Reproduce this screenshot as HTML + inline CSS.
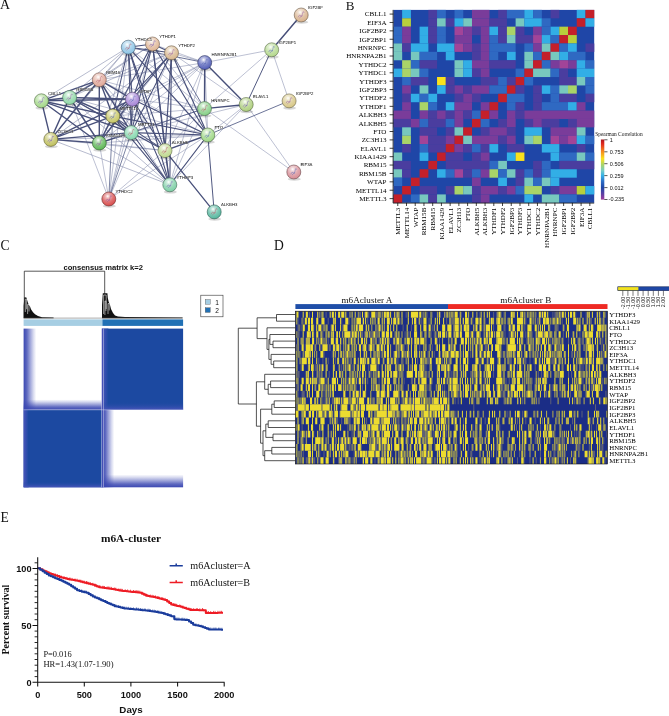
<!DOCTYPE html>
<html lang="en"><head><meta charset="utf-8"><title>m6A regulators figure</title>
<style>html,body{margin:0;padding:0;background:#fff}body{width:669px;height:716px;overflow:hidden}svg{display:block}</style></head><body>
<svg width="669" height="716" viewBox="0 0 669 716">
<rect width="669" height="716" fill="#fff"/>
<g font-family="'Liberation Serif',serif" fill="#111"><text x="0" y="9.4" font-size="13.9">A</text><text x="345.8" y="9.5" font-size="13">B</text><text x="0.4" y="249.6" font-size="13.6">C</text><text x="274" y="249.5" font-size="13.6">D</text><text x="0.5" y="522" font-size="13.6">E</text></g>
<clipPath id="clipA"><rect x="0" y="0" width="322.6" height="240"/></clipPath><g id="panelA" clip-path="url(#clipA)"><defs>
<radialGradient id="ng0" cx="0.42" cy="0.3" r="0.78"><stop offset="0" stop-color="#fff"/><stop offset="0.18" stop-color="#f0e1d2"/><stop offset="0.5" stop-color="#e1c4a8"/><stop offset="0.85" stop-color="#d9b48f"/><stop offset="1" stop-color="#877059"/></radialGradient>
<radialGradient id="ng1" cx="0.42" cy="0.3" r="0.78"><stop offset="0" stop-color="#fff"/><stop offset="0.18" stop-color="#e1f0d2"/><stop offset="0.5" stop-color="#c5e1a8"/><stop offset="0.85" stop-color="#b5d98f"/><stop offset="1" stop-color="#708759"/></radialGradient>
<radialGradient id="ng2" cx="0.42" cy="0.3" r="0.78"><stop offset="0" stop-color="#fff"/><stop offset="0.18" stop-color="#d2e8f5"/><stop offset="0.5" stop-color="#a7d2ec"/><stop offset="0.85" stop-color="#8ec5e6"/><stop offset="1" stop-color="#587a8f"/></radialGradient>
<radialGradient id="ng3" cx="0.42" cy="0.3" r="0.78"><stop offset="0" stop-color="#fff"/><stop offset="0.18" stop-color="#f3e3d6"/><stop offset="0.5" stop-color="#e7c8af"/><stop offset="0.85" stop-color="#e0b898"/><stop offset="1" stop-color="#8b725e"/></radialGradient>
<radialGradient id="ng4" cx="0.42" cy="0.3" r="0.78"><stop offset="0" stop-color="#fff"/><stop offset="0.18" stop-color="#efe3d3"/><stop offset="0.5" stop-color="#e1c8a8"/><stop offset="0.85" stop-color="#d8b890"/><stop offset="1" stop-color="#867259"/></radialGradient>
<radialGradient id="ng5" cx="0.42" cy="0.3" r="0.78"><stop offset="0" stop-color="#fff"/><stop offset="0.18" stop-color="#bbbfe3"/><stop offset="0.5" stop-color="#7a83c8"/><stop offset="0.85" stop-color="#5560b8"/><stop offset="1" stop-color="#353c72"/></radialGradient>
<radialGradient id="ng6" cx="0.42" cy="0.3" r="0.78"><stop offset="0" stop-color="#fff"/><stop offset="0.18" stop-color="#f3dcd6"/><stop offset="0.5" stop-color="#e7bbaf"/><stop offset="0.85" stop-color="#e0a898"/><stop offset="1" stop-color="#8b685e"/></radialGradient>
<radialGradient id="ng7" cx="0.42" cy="0.3" r="0.78"><stop offset="0" stop-color="#fff"/><stop offset="0.18" stop-color="#dbefd0"/><stop offset="0.5" stop-color="#b9e1a4"/><stop offset="0.85" stop-color="#a5d88a"/><stop offset="1" stop-color="#668656"/></radialGradient>
<radialGradient id="ng8" cx="0.42" cy="0.3" r="0.78"><stop offset="0" stop-color="#fff"/><stop offset="0.18" stop-color="#d3efdc"/><stop offset="0.5" stop-color="#a8e1bb"/><stop offset="0.85" stop-color="#90d8a8"/><stop offset="1" stop-color="#598668"/></radialGradient>
<radialGradient id="ng9" cx="0.42" cy="0.3" r="0.78"><stop offset="0" stop-color="#fff"/><stop offset="0.18" stop-color="#dccfef"/><stop offset="0.5" stop-color="#bba2e1"/><stop offset="0.85" stop-color="#a888d8"/><stop offset="1" stop-color="#685486"/></radialGradient>
<radialGradient id="ng10" cx="0.42" cy="0.3" r="0.78"><stop offset="0" stop-color="#fff"/><stop offset="0.18" stop-color="#cfeccf"/><stop offset="0.5" stop-color="#a2daa2"/><stop offset="0.85" stop-color="#88d088"/><stop offset="1" stop-color="#548154"/></radialGradient>
<radialGradient id="ng11" cx="0.42" cy="0.3" r="0.78"><stop offset="0" stop-color="#fff"/><stop offset="0.18" stop-color="#dfeccc"/><stop offset="0.5" stop-color="#c1da9c"/><stop offset="0.85" stop-color="#b0d080"/><stop offset="1" stop-color="#6d814f"/></radialGradient>
<radialGradient id="ng12" cx="0.42" cy="0.3" r="0.78"><stop offset="0" stop-color="#fff"/><stop offset="0.18" stop-color="#efe9cf"/><stop offset="0.5" stop-color="#e1d4a2"/><stop offset="0.85" stop-color="#d8c888"/><stop offset="1" stop-color="#867c54"/></radialGradient>
<radialGradient id="ng13" cx="0.42" cy="0.3" r="0.78"><stop offset="0" stop-color="#fff"/><stop offset="0.18" stop-color="#e9e9c3"/><stop offset="0.5" stop-color="#d4d489"/><stop offset="0.85" stop-color="#c8c868"/><stop offset="1" stop-color="#7c7c40"/></radialGradient>
<radialGradient id="ng14" cx="0.42" cy="0.3" r="0.78"><stop offset="0" stop-color="#fff"/><stop offset="0.18" stop-color="#cfefdf"/><stop offset="0.5" stop-color="#a2e1c1"/><stop offset="0.85" stop-color="#88d8b0"/><stop offset="1" stop-color="#54866d"/></radialGradient>
<radialGradient id="ng15" cx="0.42" cy="0.3" r="0.78"><stop offset="0" stop-color="#fff"/><stop offset="0.18" stop-color="#e6e6bf"/><stop offset="0.5" stop-color="#cece83"/><stop offset="0.85" stop-color="#c0c060"/><stop offset="1" stop-color="#77773c"/></radialGradient>
<radialGradient id="ng16" cx="0.42" cy="0.3" r="0.78"><stop offset="0" stop-color="#fff"/><stop offset="0.18" stop-color="#bfe3bc"/><stop offset="0.5" stop-color="#83c87d"/><stop offset="0.85" stop-color="#60b858"/><stop offset="1" stop-color="#3c7237"/></radialGradient>
<radialGradient id="ng17" cx="0.42" cy="0.3" r="0.78"><stop offset="0" stop-color="#fff"/><stop offset="0.18" stop-color="#d9efcf"/><stop offset="0.5" stop-color="#b5e1a2"/><stop offset="0.85" stop-color="#a0d888"/><stop offset="1" stop-color="#638654"/></radialGradient>
<radialGradient id="ng18" cx="0.42" cy="0.3" r="0.78"><stop offset="0" stop-color="#fff"/><stop offset="0.18" stop-color="#e6efd3"/><stop offset="0.5" stop-color="#cee1a8"/><stop offset="0.85" stop-color="#c0d890"/><stop offset="1" stop-color="#778659"/></radialGradient>
<radialGradient id="ng19" cx="0.42" cy="0.3" r="0.78"><stop offset="0" stop-color="#fff"/><stop offset="0.18" stop-color="#ccecdc"/><stop offset="0.5" stop-color="#9cdabb"/><stop offset="0.85" stop-color="#80d0a8"/><stop offset="1" stop-color="#4f8168"/></radialGradient>
<radialGradient id="ng20" cx="0.42" cy="0.3" r="0.78"><stop offset="0" stop-color="#fff"/><stop offset="0.18" stop-color="#efb9b9"/><stop offset="0.5" stop-color="#e17676"/><stop offset="0.85" stop-color="#d85050"/><stop offset="1" stop-color="#863232"/></radialGradient>
<radialGradient id="ng21" cx="0.42" cy="0.3" r="0.78"><stop offset="0" stop-color="#fff"/><stop offset="0.18" stop-color="#efd3d6"/><stop offset="0.5" stop-color="#e1a8af"/><stop offset="0.85" stop-color="#d89098"/><stop offset="1" stop-color="#86595e"/></radialGradient>
<radialGradient id="ng22" cx="0.42" cy="0.3" r="0.78"><stop offset="0" stop-color="#fff"/><stop offset="0.18" stop-color="#bce3d9"/><stop offset="0.5" stop-color="#7dc8b5"/><stop offset="0.85" stop-color="#58b8a0"/><stop offset="1" stop-color="#377263"/></radialGradient>
</defs>
<g stroke-linecap="round">
<line x1="207.8" y1="135.0" x2="99.3" y2="143.0" stroke="#7a82a6" stroke-width="0.50"/>
<line x1="207.8" y1="135.0" x2="99.3" y2="79.8" stroke="#7a82a6" stroke-width="0.50"/>
<line x1="207.8" y1="135.0" x2="69.6" y2="97.5" stroke="#7a82a6" stroke-width="0.50"/>
<line x1="207.8" y1="135.0" x2="50.8" y2="139.4" stroke="#7a82a6" stroke-width="0.50"/>
<line x1="165.0" y1="150.6" x2="99.3" y2="143.0" stroke="#7a82a6" stroke-width="0.50"/>
<line x1="165.0" y1="150.6" x2="99.3" y2="79.8" stroke="#7a82a6" stroke-width="0.50"/>
<line x1="165.0" y1="150.6" x2="69.6" y2="97.5" stroke="#7a82a6" stroke-width="0.50"/>
<line x1="165.0" y1="150.6" x2="50.8" y2="139.4" stroke="#7a82a6" stroke-width="0.50"/>
<line x1="204.7" y1="62.6" x2="131.3" y2="132.6" stroke="#7a82a6" stroke-width="0.50"/>
<line x1="204.7" y1="62.6" x2="112.8" y2="116.1" stroke="#7a82a6" stroke-width="0.50"/>
<line x1="204.7" y1="62.6" x2="132.4" y2="99.2" stroke="#7a82a6" stroke-width="0.50"/>
<line x1="204.7" y1="62.6" x2="152.5" y2="44.0" stroke="#7a82a6" stroke-width="0.50"/>
<line x1="204.7" y1="62.6" x2="171.5" y2="52.8" stroke="#7a82a6" stroke-width="0.50"/>
<line x1="204.7" y1="62.6" x2="169.8" y2="184.8" stroke="#7a82a6" stroke-width="0.50"/>
<line x1="207.8" y1="135.0" x2="204.7" y2="62.6" stroke="#7a82a6" stroke-width="0.50"/>
<line x1="165.0" y1="150.6" x2="204.7" y2="62.6" stroke="#7a82a6" stroke-width="0.50"/>
<line x1="204.7" y1="62.6" x2="99.3" y2="79.8" stroke="#7a82a6" stroke-width="0.50"/>
<line x1="204.7" y1="62.6" x2="99.3" y2="143.0" stroke="#7a82a6" stroke-width="0.50"/>
<line x1="204.5" y1="108.6" x2="112.8" y2="116.1" stroke="#7a82a6" stroke-width="0.50"/>
<line x1="204.5" y1="108.6" x2="132.4" y2="99.2" stroke="#7a82a6" stroke-width="0.50"/>
<line x1="204.5" y1="108.6" x2="152.5" y2="44.0" stroke="#7a82a6" stroke-width="0.50"/>
<line x1="204.5" y1="108.6" x2="169.8" y2="184.8" stroke="#7a82a6" stroke-width="0.50"/>
<line x1="204.5" y1="108.6" x2="128.3" y2="47.2" stroke="#7a82a6" stroke-width="0.50"/>
<line x1="207.8" y1="135.0" x2="204.5" y2="108.6" stroke="#7a82a6" stroke-width="0.50"/>
<line x1="165.0" y1="150.6" x2="204.5" y2="108.6" stroke="#7a82a6" stroke-width="0.50"/>
<line x1="204.5" y1="108.6" x2="99.3" y2="79.8" stroke="#7a82a6" stroke-width="0.50"/>
<line x1="204.5" y1="108.6" x2="99.3" y2="143.0" stroke="#7a82a6" stroke-width="0.50"/>
<line x1="99.3" y1="143.0" x2="108.8" y2="199.0" stroke="#7a82a6" stroke-width="0.50"/>
<line x1="132.4" y1="99.2" x2="108.8" y2="199.0" stroke="#7a82a6" stroke-width="0.50"/>
<line x1="165.0" y1="150.6" x2="108.8" y2="199.0" stroke="#7a82a6" stroke-width="0.50"/>
<line x1="69.6" y1="97.5" x2="108.8" y2="199.0" stroke="#7a82a6" stroke-width="0.50"/>
<line x1="128.3" y1="47.2" x2="108.8" y2="199.0" stroke="#7a82a6" stroke-width="0.50"/>
<line x1="108.8" y1="199.0" x2="152.5" y2="44.0" stroke="#7a82a6" stroke-width="0.50"/>
<line x1="108.8" y1="199.0" x2="171.5" y2="52.8" stroke="#7a82a6" stroke-width="0.50"/>
<line x1="207.8" y1="135.0" x2="108.8" y2="199.0" stroke="#7a82a6" stroke-width="0.50"/>
<line x1="204.7" y1="62.6" x2="271.7" y2="49.8" stroke="#7a82a6" stroke-width="0.50"/>
<line x1="271.7" y1="49.8" x2="289.1" y2="100.9" stroke="#7a82a6" stroke-width="0.50"/>
<line x1="204.5" y1="108.6" x2="271.7" y2="49.8" stroke="#7a82a6" stroke-width="0.50"/>
<line x1="246.2" y1="104.5" x2="207.8" y2="135.0" stroke="#7a82a6" stroke-width="0.50"/>
<line x1="293.8" y1="172.0" x2="246.2" y2="104.5" stroke="#7a82a6" stroke-width="0.50"/>
<line x1="293.8" y1="172.0" x2="204.5" y2="108.6" stroke="#7a82a6" stroke-width="0.50"/>
<line x1="246.2" y1="104.5" x2="169.8" y2="184.8" stroke="#7a82a6" stroke-width="0.50"/>
<line x1="246.2" y1="104.5" x2="131.3" y2="132.6" stroke="#7a82a6" stroke-width="0.50"/>
<line x1="246.2" y1="104.5" x2="171.5" y2="52.8" stroke="#7a82a6" stroke-width="0.50"/>
<line x1="99.3" y1="143.0" x2="152.5" y2="44.0" stroke="#7a82a6" stroke-width="0.55"/>
<line x1="99.3" y1="143.0" x2="171.5" y2="52.8" stroke="#7a82a6" stroke-width="0.55"/>
<line x1="99.3" y1="143.0" x2="169.8" y2="184.8" stroke="#7a82a6" stroke-width="0.55"/>
<line x1="99.3" y1="143.0" x2="128.3" y2="47.2" stroke="#7a82a6" stroke-width="0.55"/>
<line x1="99.3" y1="79.8" x2="152.5" y2="44.0" stroke="#7a82a6" stroke-width="0.55"/>
<line x1="99.3" y1="79.8" x2="171.5" y2="52.8" stroke="#7a82a6" stroke-width="0.55"/>
<line x1="99.3" y1="79.8" x2="169.8" y2="184.8" stroke="#7a82a6" stroke-width="0.55"/>
<line x1="99.3" y1="79.8" x2="128.3" y2="47.2" stroke="#7a82a6" stroke-width="0.55"/>
<line x1="69.6" y1="97.5" x2="152.5" y2="44.0" stroke="#7a82a6" stroke-width="0.55"/>
<line x1="69.6" y1="97.5" x2="171.5" y2="52.8" stroke="#7a82a6" stroke-width="0.55"/>
<line x1="69.6" y1="97.5" x2="169.8" y2="184.8" stroke="#7a82a6" stroke-width="0.55"/>
<line x1="69.6" y1="97.5" x2="128.3" y2="47.2" stroke="#7a82a6" stroke-width="0.55"/>
<line x1="171.5" y1="52.8" x2="50.8" y2="139.4" stroke="#7a82a6" stroke-width="0.55"/>
<line x1="169.8" y1="184.8" x2="50.8" y2="139.4" stroke="#7a82a6" stroke-width="0.55"/>
<line x1="128.3" y1="47.2" x2="50.8" y2="139.4" stroke="#7a82a6" stroke-width="0.55"/>
<line x1="41.4" y1="100.8" x2="128.3" y2="47.2" stroke="#7a82a6" stroke-width="0.55"/>
<line x1="112.8" y1="116.1" x2="108.8" y2="199.0" stroke="#5b648c" stroke-width="0.80"/>
<line x1="131.3" y1="132.6" x2="108.8" y2="199.0" stroke="#5b648c" stroke-width="0.80"/>
<line x1="204.7" y1="62.6" x2="128.3" y2="47.2" stroke="#5b648c" stroke-width="0.90"/>
<line x1="204.5" y1="108.6" x2="131.3" y2="132.6" stroke="#5b648c" stroke-width="0.90"/>
<line x1="204.5" y1="108.6" x2="171.5" y2="52.8" stroke="#5b648c" stroke-width="0.90"/>
<line x1="207.8" y1="135.0" x2="289.1" y2="100.9" stroke="#5b648c" stroke-width="0.90"/>
<line x1="246.2" y1="104.5" x2="271.7" y2="49.8" stroke="#48507a" stroke-width="0.95"/>
<line x1="214.2" y1="211.9" x2="207.8" y2="135.0" stroke="#48507a" stroke-width="0.95"/>
<line x1="131.3" y1="132.6" x2="152.5" y2="44.0" stroke="#48507a" stroke-width="1.04"/>
<line x1="131.3" y1="132.6" x2="171.5" y2="52.8" stroke="#48507a" stroke-width="1.04"/>
<line x1="131.3" y1="132.6" x2="169.8" y2="184.8" stroke="#48507a" stroke-width="1.04"/>
<line x1="131.3" y1="132.6" x2="128.3" y2="47.2" stroke="#48507a" stroke-width="1.04"/>
<line x1="112.8" y1="116.1" x2="152.5" y2="44.0" stroke="#48507a" stroke-width="1.04"/>
<line x1="112.8" y1="116.1" x2="171.5" y2="52.8" stroke="#48507a" stroke-width="1.04"/>
<line x1="112.8" y1="116.1" x2="169.8" y2="184.8" stroke="#48507a" stroke-width="1.04"/>
<line x1="112.8" y1="116.1" x2="128.3" y2="47.2" stroke="#48507a" stroke-width="1.04"/>
<line x1="132.4" y1="99.2" x2="152.5" y2="44.0" stroke="#48507a" stroke-width="1.04"/>
<line x1="132.4" y1="99.2" x2="171.5" y2="52.8" stroke="#48507a" stroke-width="1.04"/>
<line x1="132.4" y1="99.2" x2="169.8" y2="184.8" stroke="#48507a" stroke-width="1.04"/>
<line x1="132.4" y1="99.2" x2="128.3" y2="47.2" stroke="#48507a" stroke-width="1.04"/>
<line x1="152.5" y1="44.0" x2="171.5" y2="52.8" stroke="#48507a" stroke-width="1.13"/>
<line x1="152.5" y1="44.0" x2="169.8" y2="184.8" stroke="#48507a" stroke-width="1.13"/>
<line x1="128.3" y1="47.2" x2="152.5" y2="44.0" stroke="#48507a" stroke-width="1.13"/>
<line x1="171.5" y1="52.8" x2="169.8" y2="184.8" stroke="#48507a" stroke-width="1.13"/>
<line x1="128.3" y1="47.2" x2="171.5" y2="52.8" stroke="#48507a" stroke-width="1.13"/>
<line x1="128.3" y1="47.2" x2="169.8" y2="184.8" stroke="#48507a" stroke-width="1.13"/>
<line x1="207.8" y1="135.0" x2="131.3" y2="132.6" stroke="#48507a" stroke-width="1.13"/>
<line x1="207.8" y1="135.0" x2="112.8" y2="116.1" stroke="#48507a" stroke-width="1.13"/>
<line x1="207.8" y1="135.0" x2="132.4" y2="99.2" stroke="#48507a" stroke-width="1.13"/>
<line x1="207.8" y1="135.0" x2="152.5" y2="44.0" stroke="#48507a" stroke-width="1.13"/>
<line x1="207.8" y1="135.0" x2="171.5" y2="52.8" stroke="#48507a" stroke-width="1.13"/>
<line x1="207.8" y1="135.0" x2="169.8" y2="184.8" stroke="#48507a" stroke-width="1.13"/>
<line x1="207.8" y1="135.0" x2="128.3" y2="47.2" stroke="#48507a" stroke-width="1.13"/>
<line x1="165.0" y1="150.6" x2="131.3" y2="132.6" stroke="#48507a" stroke-width="1.13"/>
<line x1="165.0" y1="150.6" x2="112.8" y2="116.1" stroke="#48507a" stroke-width="1.13"/>
<line x1="165.0" y1="150.6" x2="132.4" y2="99.2" stroke="#48507a" stroke-width="1.13"/>
<line x1="165.0" y1="150.6" x2="152.5" y2="44.0" stroke="#48507a" stroke-width="1.13"/>
<line x1="165.0" y1="150.6" x2="171.5" y2="52.8" stroke="#48507a" stroke-width="1.13"/>
<line x1="165.0" y1="150.6" x2="169.8" y2="184.8" stroke="#48507a" stroke-width="1.13"/>
<line x1="165.0" y1="150.6" x2="128.3" y2="47.2" stroke="#48507a" stroke-width="1.13"/>
<line x1="214.2" y1="211.9" x2="165.0" y2="150.6" stroke="#48507a" stroke-width="1.31"/>
<line x1="112.8" y1="116.1" x2="131.3" y2="132.6" stroke="#48507a" stroke-width="1.40"/>
<line x1="131.3" y1="132.6" x2="132.4" y2="99.2" stroke="#48507a" stroke-width="1.40"/>
<line x1="99.3" y1="143.0" x2="131.3" y2="132.6" stroke="#48507a" stroke-width="1.40"/>
<line x1="131.3" y1="132.6" x2="99.3" y2="79.8" stroke="#48507a" stroke-width="1.40"/>
<line x1="131.3" y1="132.6" x2="69.6" y2="97.5" stroke="#48507a" stroke-width="1.40"/>
<line x1="131.3" y1="132.6" x2="50.8" y2="139.4" stroke="#48507a" stroke-width="1.40"/>
<line x1="41.4" y1="100.8" x2="131.3" y2="132.6" stroke="#48507a" stroke-width="1.40"/>
<line x1="112.8" y1="116.1" x2="132.4" y2="99.2" stroke="#48507a" stroke-width="1.40"/>
<line x1="99.3" y1="143.0" x2="112.8" y2="116.1" stroke="#48507a" stroke-width="1.40"/>
<line x1="112.8" y1="116.1" x2="99.3" y2="79.8" stroke="#48507a" stroke-width="1.40"/>
<line x1="112.8" y1="116.1" x2="69.6" y2="97.5" stroke="#48507a" stroke-width="1.40"/>
<line x1="112.8" y1="116.1" x2="50.8" y2="139.4" stroke="#48507a" stroke-width="1.40"/>
<line x1="41.4" y1="100.8" x2="112.8" y2="116.1" stroke="#48507a" stroke-width="1.40"/>
<line x1="99.3" y1="143.0" x2="132.4" y2="99.2" stroke="#48507a" stroke-width="1.40"/>
<line x1="99.3" y1="79.8" x2="132.4" y2="99.2" stroke="#48507a" stroke-width="1.40"/>
<line x1="69.6" y1="97.5" x2="132.4" y2="99.2" stroke="#48507a" stroke-width="1.40"/>
<line x1="132.4" y1="99.2" x2="50.8" y2="139.4" stroke="#48507a" stroke-width="1.40"/>
<line x1="41.4" y1="100.8" x2="132.4" y2="99.2" stroke="#48507a" stroke-width="1.40"/>
<line x1="99.3" y1="143.0" x2="99.3" y2="79.8" stroke="#48507a" stroke-width="1.40"/>
<line x1="99.3" y1="143.0" x2="69.6" y2="97.5" stroke="#48507a" stroke-width="1.40"/>
<line x1="99.3" y1="143.0" x2="50.8" y2="139.4" stroke="#48507a" stroke-width="1.40"/>
<line x1="41.4" y1="100.8" x2="99.3" y2="143.0" stroke="#48507a" stroke-width="1.40"/>
<line x1="99.3" y1="79.8" x2="69.6" y2="97.5" stroke="#48507a" stroke-width="1.40"/>
<line x1="99.3" y1="79.8" x2="50.8" y2="139.4" stroke="#48507a" stroke-width="1.40"/>
<line x1="41.4" y1="100.8" x2="99.3" y2="79.8" stroke="#48507a" stroke-width="1.40"/>
<line x1="69.6" y1="97.5" x2="50.8" y2="139.4" stroke="#48507a" stroke-width="1.40"/>
<line x1="41.4" y1="100.8" x2="69.6" y2="97.5" stroke="#48507a" stroke-width="1.40"/>
<line x1="41.4" y1="100.8" x2="50.8" y2="139.4" stroke="#48507a" stroke-width="1.40"/>
<line x1="165.0" y1="150.6" x2="207.8" y2="135.0" stroke="#48507a" stroke-width="1.40"/>
<line x1="204.7" y1="62.6" x2="204.5" y2="108.6" stroke="#48507a" stroke-width="1.40"/>
<line x1="246.2" y1="104.5" x2="204.7" y2="62.6" stroke="#48507a" stroke-width="1.40"/>
<line x1="246.2" y1="104.5" x2="204.5" y2="108.6" stroke="#48507a" stroke-width="1.40"/>
<line x1="271.7" y1="49.8" x2="301.2" y2="15.0" stroke="#48507a" stroke-width="1.49"/>
</g>
<ellipse cx="301.7" cy="22.2" rx="6.5" ry="1.6" fill="#000" opacity="0.16"/>
<circle cx="301.2" cy="15.0" r="7.0" fill="url(#ng0)" stroke="#6c5a48" stroke-width="0.6"/>
<path d="M298.2 17.2q1.2 -3.4 2.6 -1.4t1.6 -1.8t2 -1.6M299.4 18.0q1.5 -1 2.6 -2.6" stroke="#8a4a9a" stroke-width="0.55" fill="none" opacity="0.75"/>
<ellipse cx="272.2" cy="57.0" rx="6.5" ry="1.6" fill="#000" opacity="0.16"/>
<circle cx="271.7" cy="49.8" r="7.0" fill="url(#ng1)" stroke="#5a6c48" stroke-width="0.6"/>
<path d="M268.7 52.0q1.2 -3.4 2.6 -1.4t1.6 -1.8t2 -1.6M269.9 52.8q1.5 -1 2.6 -2.6" stroke="#4a5ab0" stroke-width="0.55" fill="none" opacity="0.75"/>
<ellipse cx="128.8" cy="54.400000000000006" rx="6.5" ry="1.6" fill="#000" opacity="0.16"/>
<circle cx="128.3" cy="47.2" r="7.0" fill="url(#ng2)" stroke="#476273" stroke-width="0.6"/>
<path d="M125.30000000000001 49.400000000000006q1.2 -3.4 2.6 -1.4t1.6 -1.8t2 -1.6M126.50000000000001 50.2q1.5 -1 2.6 -2.6" stroke="#b04a5a" stroke-width="0.55" fill="none" opacity="0.75"/>
<ellipse cx="153.0" cy="51.2" rx="6.5" ry="1.6" fill="#000" opacity="0.16"/>
<circle cx="152.5" cy="44.0" r="7.0" fill="url(#ng3)" stroke="#705c4c" stroke-width="0.6"/>
<path d="M149.5 46.2q1.2 -3.4 2.6 -1.4t1.6 -1.8t2 -1.6M150.7 47.0q1.5 -1 2.6 -2.6" stroke="#6a4ab0" stroke-width="0.55" fill="none" opacity="0.75"/>
<ellipse cx="172.0" cy="60.0" rx="6.5" ry="1.6" fill="#000" opacity="0.16"/>
<circle cx="171.5" cy="52.8" r="7.0" fill="url(#ng4)" stroke="#6c5c48" stroke-width="0.6"/>
<path d="M168.5 55.0q1.2 -3.4 2.6 -1.4t1.6 -1.8t2 -1.6M169.7 55.8q1.5 -1 2.6 -2.6" stroke="#8a4a9a" stroke-width="0.55" fill="none" opacity="0.75"/>
<ellipse cx="205.2" cy="69.8" rx="6.5" ry="1.6" fill="#000" opacity="0.16"/>
<circle cx="204.7" cy="62.6" r="7.0" fill="url(#ng5)" stroke="#2a305c" stroke-width="0.6"/>
<path d="M201.7 64.8q1.2 -3.4 2.6 -1.4t1.6 -1.8t2 -1.6M202.89999999999998 65.6q1.5 -1 2.6 -2.6" stroke="#4a5ab0" stroke-width="0.55" fill="none" opacity="0.75"/>
<ellipse cx="99.8" cy="87.0" rx="6.5" ry="1.6" fill="#000" opacity="0.16"/>
<circle cx="99.3" cy="79.8" r="7.0" fill="url(#ng6)" stroke="#70544c" stroke-width="0.6"/>
<path d="M96.3 82.0q1.2 -3.4 2.6 -1.4t1.6 -1.8t2 -1.6M97.5 82.8q1.5 -1 2.6 -2.6" stroke="#b04a5a" stroke-width="0.55" fill="none" opacity="0.75"/>
<ellipse cx="41.9" cy="108.0" rx="6.5" ry="1.6" fill="#000" opacity="0.16"/>
<circle cx="41.4" cy="100.8" r="7.0" fill="url(#ng7)" stroke="#526c45" stroke-width="0.6"/>
<path d="M38.4 103.0q1.2 -3.4 2.6 -1.4t1.6 -1.8t2 -1.6M39.6 103.8q1.5 -1 2.6 -2.6" stroke="#6a4ab0" stroke-width="0.55" fill="none" opacity="0.75"/>
<ellipse cx="70.1" cy="104.7" rx="6.5" ry="1.6" fill="#000" opacity="0.16"/>
<circle cx="69.6" cy="97.5" r="7.0" fill="url(#ng8)" stroke="#486c54" stroke-width="0.6"/>
<path d="M66.6 99.7q1.2 -3.4 2.6 -1.4t1.6 -1.8t2 -1.6M67.8 100.5q1.5 -1 2.6 -2.6" stroke="#8a4a9a" stroke-width="0.55" fill="none" opacity="0.75"/>
<ellipse cx="132.9" cy="106.4" rx="6.5" ry="1.6" fill="#000" opacity="0.16"/>
<circle cx="132.4" cy="99.2" r="7.0" fill="url(#ng9)" stroke="#54446c" stroke-width="0.6"/>
<path d="M129.4 101.4q1.2 -3.4 2.6 -1.4t1.6 -1.8t2 -1.6M130.6 102.2q1.5 -1 2.6 -2.6" stroke="#4a5ab0" stroke-width="0.55" fill="none" opacity="0.75"/>
<ellipse cx="205.0" cy="115.8" rx="6.5" ry="1.6" fill="#000" opacity="0.16"/>
<circle cx="204.5" cy="108.6" r="7.0" fill="url(#ng10)" stroke="#446844" stroke-width="0.6"/>
<path d="M201.5 110.8q1.2 -3.4 2.6 -1.4t1.6 -1.8t2 -1.6M202.7 111.6q1.5 -1 2.6 -2.6" stroke="#b04a5a" stroke-width="0.55" fill="none" opacity="0.75"/>
<ellipse cx="246.7" cy="111.7" rx="6.5" ry="1.6" fill="#000" opacity="0.16"/>
<circle cx="246.2" cy="104.5" r="7.0" fill="url(#ng11)" stroke="#586840" stroke-width="0.6"/>
<path d="M243.2 106.7q1.2 -3.4 2.6 -1.4t1.6 -1.8t2 -1.6M244.39999999999998 107.5q1.5 -1 2.6 -2.6" stroke="#6a4ab0" stroke-width="0.55" fill="none" opacity="0.75"/>
<ellipse cx="289.6" cy="108.10000000000001" rx="6.5" ry="1.6" fill="#000" opacity="0.16"/>
<circle cx="289.1" cy="100.9" r="7.0" fill="url(#ng12)" stroke="#6c6444" stroke-width="0.6"/>
<path d="M286.1 103.10000000000001q1.2 -3.4 2.6 -1.4t1.6 -1.8t2 -1.6M287.3 103.9q1.5 -1 2.6 -2.6" stroke="#8a4a9a" stroke-width="0.55" fill="none" opacity="0.75"/>
<ellipse cx="113.3" cy="123.3" rx="6.5" ry="1.6" fill="#000" opacity="0.16"/>
<circle cx="112.8" cy="116.1" r="7.0" fill="url(#ng13)" stroke="#646434" stroke-width="0.6"/>
<path d="M109.8 118.3q1.2 -3.4 2.6 -1.4t1.6 -1.8t2 -1.6M111.0 119.1q1.5 -1 2.6 -2.6" stroke="#4a5ab0" stroke-width="0.55" fill="none" opacity="0.75"/>
<ellipse cx="131.8" cy="139.79999999999998" rx="6.5" ry="1.6" fill="#000" opacity="0.16"/>
<circle cx="131.3" cy="132.6" r="7.0" fill="url(#ng14)" stroke="#446c58" stroke-width="0.6"/>
<path d="M128.3 134.79999999999998q1.2 -3.4 2.6 -1.4t1.6 -1.8t2 -1.6M129.5 135.6q1.5 -1 2.6 -2.6" stroke="#b04a5a" stroke-width="0.55" fill="none" opacity="0.75"/>
<ellipse cx="51.3" cy="146.6" rx="6.5" ry="1.6" fill="#000" opacity="0.16"/>
<circle cx="50.8" cy="139.4" r="7.0" fill="url(#ng15)" stroke="#606030" stroke-width="0.6"/>
<path d="M47.8 141.6q1.2 -3.4 2.6 -1.4t1.6 -1.8t2 -1.6M49.0 142.4q1.5 -1 2.6 -2.6" stroke="#6a4ab0" stroke-width="0.55" fill="none" opacity="0.75"/>
<ellipse cx="99.8" cy="150.2" rx="6.5" ry="1.6" fill="#000" opacity="0.16"/>
<circle cx="99.3" cy="143.0" r="7.0" fill="url(#ng16)" stroke="#305c2c" stroke-width="0.6"/>
<path d="M96.3 145.2q1.2 -3.4 2.6 -1.4t1.6 -1.8t2 -1.6M97.5 146.0q1.5 -1 2.6 -2.6" stroke="#8a4a9a" stroke-width="0.55" fill="none" opacity="0.75"/>
<ellipse cx="208.3" cy="142.2" rx="6.5" ry="1.6" fill="#000" opacity="0.16"/>
<circle cx="207.8" cy="135.0" r="7.0" fill="url(#ng17)" stroke="#506c44" stroke-width="0.6"/>
<path d="M204.8 137.2q1.2 -3.4 2.6 -1.4t1.6 -1.8t2 -1.6M206.0 138.0q1.5 -1 2.6 -2.6" stroke="#4a5ab0" stroke-width="0.55" fill="none" opacity="0.75"/>
<ellipse cx="165.5" cy="157.79999999999998" rx="6.5" ry="1.6" fill="#000" opacity="0.16"/>
<circle cx="165.0" cy="150.6" r="7.0" fill="url(#ng18)" stroke="#606c48" stroke-width="0.6"/>
<path d="M162.0 152.79999999999998q1.2 -3.4 2.6 -1.4t1.6 -1.8t2 -1.6M163.2 153.6q1.5 -1 2.6 -2.6" stroke="#b04a5a" stroke-width="0.55" fill="none" opacity="0.75"/>
<ellipse cx="170.3" cy="192.0" rx="6.5" ry="1.6" fill="#000" opacity="0.16"/>
<circle cx="169.8" cy="184.8" r="7.0" fill="url(#ng19)" stroke="#406854" stroke-width="0.6"/>
<path d="M166.8 187.0q1.2 -3.4 2.6 -1.4t1.6 -1.8t2 -1.6M168.0 187.8q1.5 -1 2.6 -2.6" stroke="#6a4ab0" stroke-width="0.55" fill="none" opacity="0.75"/>
<ellipse cx="109.3" cy="206.2" rx="6.5" ry="1.6" fill="#000" opacity="0.16"/>
<circle cx="108.8" cy="199.0" r="7.0" fill="url(#ng20)" stroke="#6c2828" stroke-width="0.6"/>
<path d="M105.8 201.2q1.2 -3.4 2.6 -1.4t1.6 -1.8t2 -1.6M107.0 202.0q1.5 -1 2.6 -2.6" stroke="#8a4a9a" stroke-width="0.55" fill="none" opacity="0.75"/>
<ellipse cx="294.3" cy="179.2" rx="6.5" ry="1.6" fill="#000" opacity="0.16"/>
<circle cx="293.8" cy="172.0" r="7.0" fill="url(#ng21)" stroke="#6c484c" stroke-width="0.6"/>
<path d="M290.8 174.2q1.2 -3.4 2.6 -1.4t1.6 -1.8t2 -1.6M292.0 175.0q1.5 -1 2.6 -2.6" stroke="#4a5ab0" stroke-width="0.55" fill="none" opacity="0.75"/>
<ellipse cx="214.7" cy="219.1" rx="6.5" ry="1.6" fill="#000" opacity="0.16"/>
<circle cx="214.2" cy="211.9" r="7.0" fill="url(#ng22)" stroke="#2c5c50" stroke-width="0.6"/>
<path d="M211.2 214.1q1.2 -3.4 2.6 -1.4t1.6 -1.8t2 -1.6M212.39999999999998 214.9q1.5 -1 2.6 -2.6" stroke="#b04a5a" stroke-width="0.55" fill="none" opacity="0.75"/>
<g font-family="'Liberation Sans',sans-serif" font-size="4.3" fill="#000" stroke="#fff" stroke-width="0.5" stroke-opacity="0.6" paint-order="stroke" stroke-linejoin="round" text-rendering="geometricPrecision">
<text x="307.9" y="8.8">IGF2BP3</text>
<text x="278.4" y="43.6">IGF2BP1</text>
<text x="135.0" y="41.0">YTHDC1</text>
<text x="159.2" y="37.8">YTHDF1</text>
<text x="178.2" y="46.6">YTHDF2</text>
<text x="211.4" y="56.4">HNRNPA2B1</text>
<text x="106.0" y="73.6">RBM15</text>
<text x="48.1" y="94.6">CBLL1</text>
<text x="76.3" y="91.3">RBM15B</text>
<text x="139.1" y="93.0">WTAP</text>
<text x="211.2" y="102.4">HNRNPC</text>
<text x="252.9" y="98.3">ELAVL1</text>
<text x="295.8" y="94.7">IGF2BP2</text>
<text x="119.5" y="109.9">METTL14</text>
<text x="138.0" y="126.4">METTL3</text>
<text x="57.5" y="133.2">ZC3H13</text>
<text x="106.0" y="136.8">KIAA1429</text>
<text x="214.5" y="128.8">FTO</text>
<text x="171.7" y="144.4">ALKBH5</text>
<text x="176.5" y="178.6">YTHDF3</text>
<text x="115.5" y="192.8">YTHDC2</text>
<text x="300.5" y="165.8">EIF3A</text>
<text x="220.9" y="205.7">ALKBH3</text>
</g></g>
<g id="panelB"><rect x="393.4" y="9.9" width="200.80" height="192.90" fill="#1f46a7"/>
<rect x="402.13" y="9.90" width="8.78" height="8.44" fill="#32aee6"/>
<rect x="428.32" y="9.90" width="8.78" height="8.44" fill="#4a3d9f"/>
<rect x="437.05" y="9.90" width="8.78" height="8.44" fill="#2f69c2"/>
<rect x="454.51" y="9.90" width="8.78" height="8.44" fill="#2f69c2"/>
<rect x="471.97" y="9.90" width="17.51" height="8.44" fill="#7a3c9a"/>
<rect x="498.17" y="9.90" width="8.78" height="8.44" fill="#4a3d9f"/>
<rect x="506.90" y="9.90" width="17.51" height="8.44" fill="#2f69c2"/>
<rect x="524.36" y="9.90" width="8.78" height="8.44" fill="#32aee6"/>
<rect x="533.09" y="9.90" width="8.78" height="8.44" fill="#2f69c2"/>
<rect x="550.55" y="9.90" width="8.78" height="8.44" fill="#4a3d9f"/>
<rect x="576.74" y="9.90" width="8.78" height="8.44" fill="#32aee6"/>
<rect x="585.47" y="9.90" width="8.78" height="8.44" fill="#c4202a"/>
<rect x="402.13" y="18.29" width="8.78" height="8.44" fill="#b8cf3c"/>
<rect x="428.32" y="18.29" width="8.78" height="8.44" fill="#4a3d9f"/>
<rect x="437.05" y="18.29" width="8.78" height="8.44" fill="#78c8be"/>
<rect x="445.78" y="18.29" width="8.78" height="8.44" fill="#4a3d9f"/>
<rect x="454.51" y="18.29" width="8.78" height="8.44" fill="#32aee6"/>
<rect x="463.24" y="18.29" width="8.78" height="8.44" fill="#78c8be"/>
<rect x="471.97" y="18.29" width="17.51" height="8.44" fill="#7a3c9a"/>
<rect x="489.43" y="18.29" width="17.51" height="8.44" fill="#4a3d9f"/>
<rect x="515.63" y="18.29" width="8.78" height="8.44" fill="#78c8be"/>
<rect x="524.36" y="18.29" width="17.51" height="8.44" fill="#32aee6"/>
<rect x="541.82" y="18.29" width="8.78" height="8.44" fill="#2f69c2"/>
<rect x="576.74" y="18.29" width="8.78" height="8.44" fill="#c4202a"/>
<rect x="585.47" y="18.29" width="8.78" height="8.44" fill="#32aee6"/>
<rect x="393.40" y="26.67" width="8.78" height="8.44" fill="#2f69c2"/>
<rect x="402.13" y="26.67" width="8.78" height="8.44" fill="#7a3c9a"/>
<rect x="419.59" y="26.67" width="8.78" height="8.44" fill="#32aee6"/>
<rect x="428.32" y="26.67" width="8.78" height="8.44" fill="#4a3d9f"/>
<rect x="437.05" y="26.67" width="8.78" height="8.44" fill="#2f69c2"/>
<rect x="454.51" y="26.67" width="8.78" height="8.44" fill="#a24498"/>
<rect x="463.24" y="26.67" width="8.78" height="8.44" fill="#7a3c9a"/>
<rect x="471.97" y="26.67" width="8.78" height="8.44" fill="#4a3d9f"/>
<rect x="480.70" y="26.67" width="8.78" height="8.44" fill="#7a3c9a"/>
<rect x="489.43" y="26.67" width="8.78" height="8.44" fill="#32aee6"/>
<rect x="498.17" y="26.67" width="8.78" height="8.44" fill="#4a3d9f"/>
<rect x="506.90" y="26.67" width="8.78" height="8.44" fill="#a9d468"/>
<rect x="515.63" y="26.67" width="8.78" height="8.44" fill="#4a3d9f"/>
<rect x="533.09" y="26.67" width="8.78" height="8.44" fill="#7a3c9a"/>
<rect x="541.82" y="26.67" width="8.78" height="8.44" fill="#2f69c2"/>
<rect x="550.55" y="26.67" width="8.78" height="8.44" fill="#32aee6"/>
<rect x="559.28" y="26.67" width="8.78" height="8.44" fill="#b8cf3c"/>
<rect x="568.01" y="26.67" width="8.78" height="8.44" fill="#c4202a"/>
<rect x="393.40" y="35.06" width="8.78" height="8.44" fill="#2f69c2"/>
<rect x="402.13" y="35.06" width="8.78" height="8.44" fill="#7a3c9a"/>
<rect x="419.59" y="35.06" width="8.78" height="8.44" fill="#32aee6"/>
<rect x="428.32" y="35.06" width="8.78" height="8.44" fill="#4a3d9f"/>
<rect x="437.05" y="35.06" width="8.78" height="8.44" fill="#2f69c2"/>
<rect x="454.51" y="35.06" width="17.51" height="8.44" fill="#7a3c9a"/>
<rect x="480.70" y="35.06" width="8.78" height="8.44" fill="#7a3c9a"/>
<rect x="489.43" y="35.06" width="8.78" height="8.44" fill="#2f69c2"/>
<rect x="498.17" y="35.06" width="8.78" height="8.44" fill="#4a3d9f"/>
<rect x="506.90" y="35.06" width="8.78" height="8.44" fill="#78c8be"/>
<rect x="515.63" y="35.06" width="17.51" height="8.44" fill="#4a3d9f"/>
<rect x="533.09" y="35.06" width="8.78" height="8.44" fill="#a24498"/>
<rect x="541.82" y="35.06" width="8.78" height="8.44" fill="#32aee6"/>
<rect x="550.55" y="35.06" width="8.78" height="8.44" fill="#2f69c2"/>
<rect x="559.28" y="35.06" width="8.78" height="8.44" fill="#c4202a"/>
<rect x="568.01" y="35.06" width="8.78" height="8.44" fill="#b8cf3c"/>
<rect x="393.40" y="43.45" width="8.78" height="8.44" fill="#78c8be"/>
<rect x="402.13" y="43.45" width="8.78" height="8.44" fill="#4a3d9f"/>
<rect x="410.86" y="43.45" width="17.51" height="8.44" fill="#32aee6"/>
<rect x="437.05" y="43.45" width="17.51" height="8.44" fill="#32aee6"/>
<rect x="454.51" y="43.45" width="8.78" height="8.44" fill="#a24498"/>
<rect x="463.24" y="43.45" width="8.78" height="8.44" fill="#7a3c9a"/>
<rect x="471.97" y="43.45" width="8.78" height="8.44" fill="#4a3d9f"/>
<rect x="480.70" y="43.45" width="8.78" height="8.44" fill="#7a3c9a"/>
<rect x="489.43" y="43.45" width="26.24" height="8.44" fill="#2f69c2"/>
<rect x="524.36" y="43.45" width="8.78" height="8.44" fill="#2f69c2"/>
<rect x="533.09" y="43.45" width="8.78" height="8.44" fill="#7a3c9a"/>
<rect x="541.82" y="43.45" width="8.78" height="8.44" fill="#78c8be"/>
<rect x="550.55" y="43.45" width="8.78" height="8.44" fill="#c4202a"/>
<rect x="559.28" y="43.45" width="8.78" height="8.44" fill="#2f69c2"/>
<rect x="568.01" y="43.45" width="8.78" height="8.44" fill="#32aee6"/>
<rect x="585.47" y="43.45" width="8.78" height="8.44" fill="#4a3d9f"/>
<rect x="393.40" y="51.83" width="8.78" height="8.44" fill="#78c8be"/>
<rect x="410.86" y="51.83" width="8.78" height="8.44" fill="#78c8be"/>
<rect x="419.59" y="51.83" width="17.51" height="8.44" fill="#2f69c2"/>
<rect x="445.78" y="51.83" width="8.78" height="8.44" fill="#32aee6"/>
<rect x="471.97" y="51.83" width="8.78" height="8.44" fill="#4a3d9f"/>
<rect x="480.70" y="51.83" width="8.78" height="8.44" fill="#7a3c9a"/>
<rect x="489.43" y="51.83" width="8.78" height="8.44" fill="#2f69c2"/>
<rect x="506.90" y="51.83" width="8.78" height="8.44" fill="#32aee6"/>
<rect x="524.36" y="51.83" width="8.78" height="8.44" fill="#78c8be"/>
<rect x="533.09" y="51.83" width="8.78" height="8.44" fill="#2f69c2"/>
<rect x="541.82" y="51.83" width="8.78" height="8.44" fill="#c4202a"/>
<rect x="550.55" y="51.83" width="8.78" height="8.44" fill="#78c8be"/>
<rect x="559.28" y="51.83" width="8.78" height="8.44" fill="#32aee6"/>
<rect x="568.01" y="51.83" width="17.51" height="8.44" fill="#2f69c2"/>
<rect x="402.13" y="60.22" width="8.78" height="8.44" fill="#a9d468"/>
<rect x="410.86" y="60.22" width="8.78" height="8.44" fill="#2f69c2"/>
<rect x="419.59" y="60.22" width="17.51" height="8.44" fill="#4a3d9f"/>
<rect x="454.51" y="60.22" width="8.78" height="8.44" fill="#78c8be"/>
<rect x="463.24" y="60.22" width="8.78" height="8.44" fill="#32aee6"/>
<rect x="471.97" y="60.22" width="17.51" height="8.44" fill="#7a3c9a"/>
<rect x="489.43" y="60.22" width="26.24" height="8.44" fill="#4a3d9f"/>
<rect x="524.36" y="60.22" width="8.78" height="8.44" fill="#78c8be"/>
<rect x="533.09" y="60.22" width="8.78" height="8.44" fill="#c4202a"/>
<rect x="541.82" y="60.22" width="8.78" height="8.44" fill="#2f69c2"/>
<rect x="550.55" y="60.22" width="8.78" height="8.44" fill="#7a3c9a"/>
<rect x="559.28" y="60.22" width="8.78" height="8.44" fill="#a24498"/>
<rect x="568.01" y="60.22" width="8.78" height="8.44" fill="#7a3c9a"/>
<rect x="576.74" y="60.22" width="8.78" height="8.44" fill="#32aee6"/>
<rect x="585.47" y="60.22" width="8.78" height="8.44" fill="#2f69c2"/>
<rect x="393.40" y="68.61" width="8.78" height="8.44" fill="#32aee6"/>
<rect x="402.13" y="68.61" width="8.78" height="8.44" fill="#a9d468"/>
<rect x="410.86" y="68.61" width="8.78" height="8.44" fill="#78c8be"/>
<rect x="419.59" y="68.61" width="8.78" height="8.44" fill="#2f69c2"/>
<rect x="454.51" y="68.61" width="8.78" height="8.44" fill="#78c8be"/>
<rect x="463.24" y="68.61" width="8.78" height="8.44" fill="#32aee6"/>
<rect x="471.97" y="68.61" width="8.78" height="8.44" fill="#4a3d9f"/>
<rect x="480.70" y="68.61" width="8.78" height="8.44" fill="#7a3c9a"/>
<rect x="515.63" y="68.61" width="8.78" height="8.44" fill="#2f69c2"/>
<rect x="524.36" y="68.61" width="8.78" height="8.44" fill="#c4202a"/>
<rect x="533.09" y="68.61" width="17.51" height="8.44" fill="#78c8be"/>
<rect x="550.55" y="68.61" width="8.78" height="8.44" fill="#2f69c2"/>
<rect x="559.28" y="68.61" width="8.78" height="8.44" fill="#4a3d9f"/>
<rect x="576.74" y="68.61" width="17.51" height="8.44" fill="#32aee6"/>
<rect x="402.13" y="77.00" width="8.78" height="8.44" fill="#2f69c2"/>
<rect x="410.86" y="77.00" width="17.51" height="8.44" fill="#4a3d9f"/>
<rect x="437.05" y="77.00" width="8.78" height="8.44" fill="#fbe11c"/>
<rect x="445.78" y="77.00" width="8.78" height="8.44" fill="#4a3d9f"/>
<rect x="480.70" y="77.00" width="17.51" height="8.44" fill="#4a3d9f"/>
<rect x="498.17" y="77.00" width="8.78" height="8.44" fill="#2f69c2"/>
<rect x="506.90" y="77.00" width="8.78" height="8.44" fill="#4a3d9f"/>
<rect x="515.63" y="77.00" width="8.78" height="8.44" fill="#c4202a"/>
<rect x="524.36" y="77.00" width="8.78" height="8.44" fill="#2f69c2"/>
<rect x="559.28" y="77.00" width="17.51" height="8.44" fill="#4a3d9f"/>
<rect x="576.74" y="77.00" width="8.78" height="8.44" fill="#78c8be"/>
<rect x="585.47" y="77.00" width="8.78" height="8.44" fill="#2f69c2"/>
<rect x="402.13" y="85.38" width="8.78" height="8.44" fill="#7a3c9a"/>
<rect x="419.59" y="85.38" width="8.78" height="8.44" fill="#78c8be"/>
<rect x="437.05" y="85.38" width="8.78" height="8.44" fill="#32aee6"/>
<rect x="445.78" y="85.38" width="8.78" height="8.44" fill="#4a3d9f"/>
<rect x="454.51" y="85.38" width="8.78" height="8.44" fill="#7a3c9a"/>
<rect x="463.24" y="85.38" width="8.78" height="8.44" fill="#4a3d9f"/>
<rect x="471.97" y="85.38" width="17.51" height="8.44" fill="#7a3c9a"/>
<rect x="489.43" y="85.38" width="17.51" height="8.44" fill="#2f69c2"/>
<rect x="506.90" y="85.38" width="8.78" height="8.44" fill="#c4202a"/>
<rect x="515.63" y="85.38" width="8.78" height="8.44" fill="#4a3d9f"/>
<rect x="533.09" y="85.38" width="8.78" height="8.44" fill="#4a3d9f"/>
<rect x="541.82" y="85.38" width="8.78" height="8.44" fill="#32aee6"/>
<rect x="550.55" y="85.38" width="8.78" height="8.44" fill="#2f69c2"/>
<rect x="559.28" y="85.38" width="8.78" height="8.44" fill="#78c8be"/>
<rect x="568.01" y="85.38" width="8.78" height="8.44" fill="#a9d468"/>
<rect x="585.47" y="85.38" width="8.78" height="8.44" fill="#2f69c2"/>
<rect x="402.13" y="93.77" width="8.78" height="8.44" fill="#4a3d9f"/>
<rect x="410.86" y="93.77" width="8.78" height="8.44" fill="#32aee6"/>
<rect x="419.59" y="93.77" width="8.78" height="8.44" fill="#2f69c2"/>
<rect x="428.32" y="93.77" width="8.78" height="8.44" fill="#32aee6"/>
<rect x="454.51" y="93.77" width="8.78" height="8.44" fill="#4a3d9f"/>
<rect x="463.24" y="93.77" width="8.78" height="8.44" fill="#7a3c9a"/>
<rect x="471.97" y="93.77" width="8.78" height="8.44" fill="#4a3d9f"/>
<rect x="498.17" y="93.77" width="8.78" height="8.44" fill="#c4202a"/>
<rect x="506.90" y="93.77" width="17.51" height="8.44" fill="#2f69c2"/>
<rect x="533.09" y="93.77" width="8.78" height="8.44" fill="#4a3d9f"/>
<rect x="550.55" y="93.77" width="8.78" height="8.44" fill="#2f69c2"/>
<rect x="559.28" y="93.77" width="17.51" height="8.44" fill="#4a3d9f"/>
<rect x="585.47" y="93.77" width="8.78" height="8.44" fill="#4a3d9f"/>
<rect x="402.13" y="102.16" width="8.78" height="8.44" fill="#7a3c9a"/>
<rect x="419.59" y="102.16" width="8.78" height="8.44" fill="#a9d468"/>
<rect x="428.32" y="102.16" width="8.78" height="8.44" fill="#2f69c2"/>
<rect x="445.78" y="102.16" width="8.78" height="8.44" fill="#32aee6"/>
<rect x="454.51" y="102.16" width="17.51" height="8.44" fill="#7a3c9a"/>
<rect x="480.70" y="102.16" width="8.78" height="8.44" fill="#7a3c9a"/>
<rect x="489.43" y="102.16" width="8.78" height="8.44" fill="#c4202a"/>
<rect x="506.90" y="102.16" width="8.78" height="8.44" fill="#2f69c2"/>
<rect x="515.63" y="102.16" width="8.78" height="8.44" fill="#4a3d9f"/>
<rect x="533.09" y="102.16" width="8.78" height="8.44" fill="#4a3d9f"/>
<rect x="541.82" y="102.16" width="26.24" height="8.44" fill="#2f69c2"/>
<rect x="568.01" y="102.16" width="8.78" height="8.44" fill="#32aee6"/>
<rect x="576.74" y="102.16" width="8.78" height="8.44" fill="#7a3c9a"/>
<rect x="393.40" y="110.54" width="17.51" height="8.44" fill="#7a3c9a"/>
<rect x="419.59" y="110.54" width="8.78" height="8.44" fill="#7a3c9a"/>
<rect x="428.32" y="110.54" width="8.78" height="8.44" fill="#4a3d9f"/>
<rect x="437.05" y="110.54" width="8.78" height="8.44" fill="#7a3c9a"/>
<rect x="445.78" y="110.54" width="8.78" height="8.44" fill="#4a3d9f"/>
<rect x="454.51" y="110.54" width="8.78" height="8.44" fill="#7a3c9a"/>
<rect x="463.24" y="110.54" width="8.78" height="8.44" fill="#4a3d9f"/>
<rect x="471.97" y="110.54" width="8.78" height="8.44" fill="#2f69c2"/>
<rect x="480.70" y="110.54" width="8.78" height="8.44" fill="#c4202a"/>
<rect x="489.43" y="110.54" width="8.78" height="8.44" fill="#7a3c9a"/>
<rect x="506.90" y="110.54" width="8.78" height="8.44" fill="#7a3c9a"/>
<rect x="515.63" y="110.54" width="8.78" height="8.44" fill="#4a3d9f"/>
<rect x="524.36" y="110.54" width="69.89" height="8.44" fill="#7a3c9a"/>
<rect x="393.40" y="118.93" width="17.51" height="8.44" fill="#4a3d9f"/>
<rect x="410.86" y="118.93" width="8.78" height="8.44" fill="#7a3c9a"/>
<rect x="419.59" y="118.93" width="8.78" height="8.44" fill="#2f69c2"/>
<rect x="428.32" y="118.93" width="17.51" height="8.44" fill="#4a3d9f"/>
<rect x="445.78" y="118.93" width="8.78" height="8.44" fill="#2f69c2"/>
<rect x="454.51" y="118.93" width="8.78" height="8.44" fill="#7a3c9a"/>
<rect x="471.97" y="118.93" width="8.78" height="8.44" fill="#c4202a"/>
<rect x="480.70" y="118.93" width="8.78" height="8.44" fill="#2f69c2"/>
<rect x="498.17" y="118.93" width="8.78" height="8.44" fill="#4a3d9f"/>
<rect x="506.90" y="118.93" width="8.78" height="8.44" fill="#7a3c9a"/>
<rect x="524.36" y="118.93" width="8.78" height="8.44" fill="#4a3d9f"/>
<rect x="533.09" y="118.93" width="8.78" height="8.44" fill="#7a3c9a"/>
<rect x="541.82" y="118.93" width="17.51" height="8.44" fill="#4a3d9f"/>
<rect x="568.01" y="118.93" width="8.78" height="8.44" fill="#4a3d9f"/>
<rect x="576.74" y="118.93" width="17.51" height="8.44" fill="#7a3c9a"/>
<rect x="402.13" y="127.32" width="8.78" height="8.44" fill="#78c8be"/>
<rect x="419.59" y="127.32" width="17.51" height="8.44" fill="#4a3d9f"/>
<rect x="445.78" y="127.32" width="8.78" height="8.44" fill="#4a3d9f"/>
<rect x="454.51" y="127.32" width="8.78" height="8.44" fill="#78c8be"/>
<rect x="463.24" y="127.32" width="8.78" height="8.44" fill="#c4202a"/>
<rect x="480.70" y="127.32" width="8.78" height="8.44" fill="#4a3d9f"/>
<rect x="489.43" y="127.32" width="17.51" height="8.44" fill="#7a3c9a"/>
<rect x="506.90" y="127.32" width="8.78" height="8.44" fill="#4a3d9f"/>
<rect x="524.36" y="127.32" width="17.51" height="8.44" fill="#32aee6"/>
<rect x="550.55" y="127.32" width="26.24" height="8.44" fill="#7a3c9a"/>
<rect x="576.74" y="127.32" width="8.78" height="8.44" fill="#78c8be"/>
<rect x="402.13" y="135.70" width="8.78" height="8.44" fill="#a9d468"/>
<rect x="419.59" y="135.70" width="8.78" height="8.44" fill="#a24498"/>
<rect x="428.32" y="135.70" width="17.51" height="8.44" fill="#4a3d9f"/>
<rect x="445.78" y="135.70" width="8.78" height="8.44" fill="#7a3c9a"/>
<rect x="454.51" y="135.70" width="8.78" height="8.44" fill="#c4202a"/>
<rect x="463.24" y="135.70" width="8.78" height="8.44" fill="#78c8be"/>
<rect x="471.97" y="135.70" width="26.24" height="8.44" fill="#7a3c9a"/>
<rect x="498.17" y="135.70" width="8.78" height="8.44" fill="#4a3d9f"/>
<rect x="506.90" y="135.70" width="8.78" height="8.44" fill="#7a3c9a"/>
<rect x="524.36" y="135.70" width="8.78" height="8.44" fill="#78c8be"/>
<rect x="533.09" y="135.70" width="8.78" height="8.44" fill="#a9d468"/>
<rect x="550.55" y="135.70" width="8.78" height="8.44" fill="#a24498"/>
<rect x="559.28" y="135.70" width="8.78" height="8.44" fill="#7a3c9a"/>
<rect x="568.01" y="135.70" width="8.78" height="8.44" fill="#a24498"/>
<rect x="576.74" y="135.70" width="8.78" height="8.44" fill="#32aee6"/>
<rect x="585.47" y="135.70" width="8.78" height="8.44" fill="#2f69c2"/>
<rect x="402.13" y="144.09" width="8.78" height="8.44" fill="#4a3d9f"/>
<rect x="419.59" y="144.09" width="8.78" height="8.44" fill="#2f69c2"/>
<rect x="428.32" y="144.09" width="17.51" height="8.44" fill="#4a3d9f"/>
<rect x="445.78" y="144.09" width="8.78" height="8.44" fill="#c4202a"/>
<rect x="454.51" y="144.09" width="8.78" height="8.44" fill="#7a3c9a"/>
<rect x="463.24" y="144.09" width="8.78" height="8.44" fill="#4a3d9f"/>
<rect x="471.97" y="144.09" width="8.78" height="8.44" fill="#2f69c2"/>
<rect x="480.70" y="144.09" width="8.78" height="8.44" fill="#4a3d9f"/>
<rect x="489.43" y="144.09" width="8.78" height="8.44" fill="#32aee6"/>
<rect x="506.90" y="144.09" width="17.51" height="8.44" fill="#4a3d9f"/>
<rect x="541.82" y="144.09" width="17.51" height="8.44" fill="#32aee6"/>
<rect x="576.74" y="144.09" width="8.78" height="8.44" fill="#4a3d9f"/>
<rect x="393.40" y="152.48" width="8.78" height="8.44" fill="#78c8be"/>
<rect x="419.59" y="152.48" width="8.78" height="8.44" fill="#32aee6"/>
<rect x="437.05" y="152.48" width="8.78" height="8.44" fill="#c4202a"/>
<rect x="445.78" y="152.48" width="17.51" height="8.44" fill="#4a3d9f"/>
<rect x="471.97" y="152.48" width="8.78" height="8.44" fill="#4a3d9f"/>
<rect x="480.70" y="152.48" width="8.78" height="8.44" fill="#7a3c9a"/>
<rect x="506.90" y="152.48" width="8.78" height="8.44" fill="#32aee6"/>
<rect x="515.63" y="152.48" width="8.78" height="8.44" fill="#fbe11c"/>
<rect x="550.55" y="152.48" width="8.78" height="8.44" fill="#32aee6"/>
<rect x="559.28" y="152.48" width="17.51" height="8.44" fill="#2f69c2"/>
<rect x="576.74" y="152.48" width="8.78" height="8.44" fill="#78c8be"/>
<rect x="585.47" y="152.48" width="8.78" height="8.44" fill="#2f69c2"/>
<rect x="393.40" y="160.87" width="17.51" height="8.44" fill="#4a3d9f"/>
<rect x="428.32" y="160.87" width="8.78" height="8.44" fill="#c4202a"/>
<rect x="445.78" y="160.87" width="43.70" height="8.44" fill="#4a3d9f"/>
<rect x="489.43" y="160.87" width="8.78" height="8.44" fill="#2f69c2"/>
<rect x="498.17" y="160.87" width="8.78" height="8.44" fill="#78c8be"/>
<rect x="533.09" y="160.87" width="8.78" height="8.44" fill="#4a3d9f"/>
<rect x="541.82" y="160.87" width="8.78" height="8.44" fill="#2f69c2"/>
<rect x="559.28" y="160.87" width="34.97" height="8.44" fill="#4a3d9f"/>
<rect x="393.40" y="169.25" width="8.78" height="8.44" fill="#78c8be"/>
<rect x="402.13" y="169.25" width="8.78" height="8.44" fill="#4a3d9f"/>
<rect x="419.59" y="169.25" width="8.78" height="8.44" fill="#c4202a"/>
<rect x="437.05" y="169.25" width="8.78" height="8.44" fill="#32aee6"/>
<rect x="445.78" y="169.25" width="8.78" height="8.44" fill="#2f69c2"/>
<rect x="454.51" y="169.25" width="8.78" height="8.44" fill="#a24498"/>
<rect x="463.24" y="169.25" width="8.78" height="8.44" fill="#4a3d9f"/>
<rect x="471.97" y="169.25" width="8.78" height="8.44" fill="#2f69c2"/>
<rect x="480.70" y="169.25" width="8.78" height="8.44" fill="#7a3c9a"/>
<rect x="489.43" y="169.25" width="8.78" height="8.44" fill="#a9d468"/>
<rect x="498.17" y="169.25" width="8.78" height="8.44" fill="#2f69c2"/>
<rect x="506.90" y="169.25" width="8.78" height="8.44" fill="#78c8be"/>
<rect x="515.63" y="169.25" width="8.78" height="8.44" fill="#4a3d9f"/>
<rect x="524.36" y="169.25" width="8.78" height="8.44" fill="#2f69c2"/>
<rect x="533.09" y="169.25" width="8.78" height="8.44" fill="#4a3d9f"/>
<rect x="541.82" y="169.25" width="8.78" height="8.44" fill="#2f69c2"/>
<rect x="550.55" y="169.25" width="26.24" height="8.44" fill="#32aee6"/>
<rect x="393.40" y="177.64" width="8.78" height="8.44" fill="#2f69c2"/>
<rect x="410.86" y="177.64" width="8.78" height="8.44" fill="#c4202a"/>
<rect x="471.97" y="177.64" width="8.78" height="8.44" fill="#7a3c9a"/>
<rect x="498.17" y="177.64" width="8.78" height="8.44" fill="#32aee6"/>
<rect x="515.63" y="177.64" width="8.78" height="8.44" fill="#4a3d9f"/>
<rect x="524.36" y="177.64" width="8.78" height="8.44" fill="#78c8be"/>
<rect x="533.09" y="177.64" width="8.78" height="8.44" fill="#2f69c2"/>
<rect x="541.82" y="177.64" width="8.78" height="8.44" fill="#78c8be"/>
<rect x="550.55" y="177.64" width="8.78" height="8.44" fill="#32aee6"/>
<rect x="402.13" y="186.03" width="8.78" height="8.44" fill="#c4202a"/>
<rect x="419.59" y="186.03" width="17.51" height="8.44" fill="#4a3d9f"/>
<rect x="445.78" y="186.03" width="8.78" height="8.44" fill="#4a3d9f"/>
<rect x="454.51" y="186.03" width="8.78" height="8.44" fill="#a9d468"/>
<rect x="463.24" y="186.03" width="8.78" height="8.44" fill="#78c8be"/>
<rect x="471.97" y="186.03" width="8.78" height="8.44" fill="#4a3d9f"/>
<rect x="480.70" y="186.03" width="17.51" height="8.44" fill="#7a3c9a"/>
<rect x="498.17" y="186.03" width="8.78" height="8.44" fill="#4a3d9f"/>
<rect x="506.90" y="186.03" width="8.78" height="8.44" fill="#7a3c9a"/>
<rect x="515.63" y="186.03" width="8.78" height="8.44" fill="#2f69c2"/>
<rect x="524.36" y="186.03" width="17.51" height="8.44" fill="#a9d468"/>
<rect x="550.55" y="186.03" width="8.78" height="8.44" fill="#4a3d9f"/>
<rect x="559.28" y="186.03" width="17.51" height="8.44" fill="#7a3c9a"/>
<rect x="576.74" y="186.03" width="8.78" height="8.44" fill="#b8cf3c"/>
<rect x="585.47" y="186.03" width="8.78" height="8.44" fill="#32aee6"/>
<rect x="393.40" y="194.41" width="8.78" height="8.44" fill="#c4202a"/>
<rect x="410.86" y="194.41" width="8.78" height="8.44" fill="#2f69c2"/>
<rect x="419.59" y="194.41" width="8.78" height="8.44" fill="#78c8be"/>
<rect x="428.32" y="194.41" width="8.78" height="8.44" fill="#4a3d9f"/>
<rect x="437.05" y="194.41" width="8.78" height="8.44" fill="#78c8be"/>
<rect x="471.97" y="194.41" width="8.78" height="8.44" fill="#4a3d9f"/>
<rect x="480.70" y="194.41" width="8.78" height="8.44" fill="#7a3c9a"/>
<rect x="524.36" y="194.41" width="8.78" height="8.44" fill="#32aee6"/>
<rect x="541.82" y="194.41" width="17.51" height="8.44" fill="#78c8be"/>
<rect x="559.28" y="194.41" width="17.51" height="8.44" fill="#2f69c2"/>
<g font-family="'Liberation Serif',serif" font-size="7.1" fill="#000">
<text x="386.5" y="16.49" text-anchor="end">CBLL1</text>
<text x="386.5" y="24.88" text-anchor="end">EIF3A</text>
<text x="386.5" y="33.27" text-anchor="end">IGF2BP2</text>
<text x="386.5" y="41.65" text-anchor="end">IGF2BP1</text>
<text x="386.5" y="50.04" text-anchor="end">HNRNPC</text>
<text x="386.5" y="58.43" text-anchor="end">HNRNPA2B1</text>
<text x="386.5" y="66.82" text-anchor="end">YTHDC2</text>
<text x="386.5" y="75.20" text-anchor="end">YTHDC1</text>
<text x="386.5" y="83.59" text-anchor="end">YTHDF3</text>
<text x="386.5" y="91.98" text-anchor="end">IGF2BP3</text>
<text x="386.5" y="100.36" text-anchor="end">YTHDF2</text>
<text x="386.5" y="108.75" text-anchor="end">YTHDF1</text>
<text x="386.5" y="117.14" text-anchor="end">ALKBH3</text>
<text x="386.5" y="125.52" text-anchor="end">ALKBH5</text>
<text x="386.5" y="133.91" text-anchor="end">FTO</text>
<text x="386.5" y="142.30" text-anchor="end">ZC3H13</text>
<text x="386.5" y="150.68" text-anchor="end">ELAVL1</text>
<text x="386.5" y="159.07" text-anchor="end">KIAA1429</text>
<text x="386.5" y="167.46" text-anchor="end">RBM15</text>
<text x="386.5" y="175.85" text-anchor="end">RBM15B</text>
<text x="386.5" y="184.23" text-anchor="end">WTAP</text>
<text x="386.5" y="192.62" text-anchor="end">METTL14</text>
<text x="386.5" y="201.01" text-anchor="end">METTL3</text>
<text transform="translate(400.17,207.6) rotate(-90)" text-anchor="end">METTL3</text>
<text transform="translate(408.90,207.6) rotate(-90)" text-anchor="end">METTL14</text>
<text transform="translate(417.63,207.6) rotate(-90)" text-anchor="end">WTAP</text>
<text transform="translate(426.36,207.6) rotate(-90)" text-anchor="end">RBM15B</text>
<text transform="translate(435.09,207.6) rotate(-90)" text-anchor="end">RBM15</text>
<text transform="translate(443.82,207.6) rotate(-90)" text-anchor="end">KIAA1429</text>
<text transform="translate(452.55,207.6) rotate(-90)" text-anchor="end">ELAVL1</text>
<text transform="translate(461.28,207.6) rotate(-90)" text-anchor="end">ZC3H13</text>
<text transform="translate(470.01,207.6) rotate(-90)" text-anchor="end">FTO</text>
<text transform="translate(478.74,207.6) rotate(-90)" text-anchor="end">ALKBH5</text>
<text transform="translate(487.47,207.6) rotate(-90)" text-anchor="end">ALKBH3</text>
<text transform="translate(496.20,207.6) rotate(-90)" text-anchor="end">YTHDF1</text>
<text transform="translate(504.93,207.6) rotate(-90)" text-anchor="end">YTHDF2</text>
<text transform="translate(513.66,207.6) rotate(-90)" text-anchor="end">IGF2BP3</text>
<text transform="translate(522.39,207.6) rotate(-90)" text-anchor="end">YTHDF3</text>
<text transform="translate(531.12,207.6) rotate(-90)" text-anchor="end">YTHDC1</text>
<text transform="translate(539.85,207.6) rotate(-90)" text-anchor="end">YTHDC2</text>
<text transform="translate(548.58,207.6) rotate(-90)" text-anchor="end">HNRNPA2B1</text>
<text transform="translate(557.31,207.6) rotate(-90)" text-anchor="end">HNRNPC</text>
<text transform="translate(566.04,207.6) rotate(-90)" text-anchor="end">IGF2BP1</text>
<text transform="translate(574.77,207.6) rotate(-90)" text-anchor="end">IGF2BP2</text>
<text transform="translate(583.50,207.6) rotate(-90)" text-anchor="end">EIF3A</text>
<text transform="translate(592.23,207.6) rotate(-90)" text-anchor="end">CBLL1</text>
</g>
<path d="M389.6 14.09H393.4M389.6 22.48H393.4M389.6 30.87H393.4M389.6 39.25H393.4M389.6 47.64H393.4M389.6 56.03H393.4M389.6 64.42H393.4M389.6 72.80H393.4M389.6 81.19H393.4M389.6 89.58H393.4M389.6 97.96H393.4M389.6 106.35H393.4M389.6 114.74H393.4M389.6 123.12H393.4M389.6 131.51H393.4M389.6 139.90H393.4M389.6 148.28H393.4M389.6 156.67H393.4M389.6 165.06H393.4M389.6 173.45H393.4M389.6 181.83H393.4M389.6 190.22H393.4M389.6 198.61H393.4M397.77 202.8V206.0M406.50 202.8V206.0M415.23 202.8V206.0M423.96 202.8V206.0M432.69 202.8V206.0M441.42 202.8V206.0M450.15 202.8V206.0M458.88 202.8V206.0M467.61 202.8V206.0M476.34 202.8V206.0M485.07 202.8V206.0M493.80 202.8V206.0M502.53 202.8V206.0M511.26 202.8V206.0M519.99 202.8V206.0M528.72 202.8V206.0M537.45 202.8V206.0M546.18 202.8V206.0M554.91 202.8V206.0M563.64 202.8V206.0M572.37 202.8V206.0M581.10 202.8V206.0M589.83 202.8V206.0M393.10 9.9V203.10H594.2" stroke="#111" stroke-width="0.8" fill="none"/></g>
<defs><linearGradient id="bk" x1="0" x2="0" y1="0" y2="1"><stop offset="0" stop-color="#a8161e"/><stop offset="0.07" stop-color="#e0261c"/><stop offset="0.2" stop-color="#f58a1c"/><stop offset="0.32" stop-color="#fbe11c"/><stop offset="0.42" stop-color="#a9d468"/><stop offset="0.52" stop-color="#74cbc6"/><stop offset="0.6" stop-color="#33b2e8"/><stop offset="0.7" stop-color="#2c6cc4"/><stop offset="0.8" stop-color="#1d46a6"/><stop offset="0.9" stop-color="#5a3fa4"/><stop offset="1" stop-color="#a03c9c"/></linearGradient></defs>
<rect x="600.9" y="139.5" width="3.4" height="60.1" fill="url(#bk)"/>
<g font-family="'Liberation Sans',sans-serif" font-size="5.5" fill="#111">
<text x="609.8" y="141.7">1</text>
<text x="609.8" y="153.7">0.753</text>
<text x="609.8" y="165.6">0.506</text>
<text x="609.8" y="177.5">0.259</text>
<text x="609.8" y="189.5">0.012</text>
<text x="608.6" y="201.4">-0.235</text>
</g>
<path d="M604.3 139.8h3.2M604.3 151.8h3.2M604.3 163.7h3.2M604.3 175.6h3.2M604.3 187.6h3.2M604.3 199.5h3.2" stroke="#111" stroke-width="0.7"/>
<text x="595.2" y="135.6" font-family="'Liberation Serif',serif" font-size="5.4" fill="#111">Spearman Correlation</text>
<g id="panelC"><defs>
<linearGradient id="cfl" x1="0" x2="1" y1="0" y2="0"><stop offset="0" stop-color="#3b48b2"/><stop offset="0.26" stop-color="#3b48b2" stop-opacity="0.82"/><stop offset="0.5" stop-color="#3b48b2" stop-opacity="0.52"/><stop offset="0.78" stop-color="#3b48b2" stop-opacity="0.2"/><stop offset="1" stop-color="#3b48b2" stop-opacity="0"/></linearGradient>
<linearGradient id="cfb" x1="0" x2="0" y1="1" y2="0"><stop offset="0" stop-color="#3b48b2"/><stop offset="0.26" stop-color="#3b48b2" stop-opacity="0.82"/><stop offset="0.5" stop-color="#3b48b2" stop-opacity="0.52"/><stop offset="0.78" stop-color="#3b48b2" stop-opacity="0.2"/><stop offset="1" stop-color="#3b48b2" stop-opacity="0"/></linearGradient>
<linearGradient id="cbl" x1="0" x2="1" y1="0" y2="0"><stop offset="0" stop-color="#4a55bb"/><stop offset="1" stop-color="#1c49a1"/></linearGradient>
<linearGradient id="cbb" x1="0" x2="0" y1="1" y2="0"><stop offset="0" stop-color="#4a55bb"/><stop offset="1" stop-color="#1c49a1" stop-opacity="0"/></linearGradient>
</defs>
<text x="103.2" y="270.4" text-anchor="middle" font-family="'Liberation Sans',sans-serif" font-weight="bold" font-size="7.6" fill="#111">consensus matrix k=2</text>
<path d="M24.3 318V271.2H104.7V318" stroke="#111" stroke-width="0.7" fill="none"/>
<path d="M23.6 318.3V306L24.4 297.2L26.4 297.6L27.4 301L28.6 304.6L30 306.6L31 309.2L33 312.2L35 314.2L38 316L42 317.2L53.6 317.6V318.3Z" fill="#111"/>
<path d="M102 318.3V305L102.8 293.2H107.4L107.8 298L108.6 301.4L110 305L111 309L113 313L115 315.4L118 316.5L125 317L182.6 317.5V318.3Z" fill="#111"/>
<path d="M25.3 312V299.2h1.3v10M27.6 314V304.5h1.4v7M103.6 314V295h2.6v14M104.9 315V301h1v10M108 314V303.5h1.2v7" stroke="#fff" stroke-width="0.55" fill="none"/>
<path d="M23.6 318.1h159" stroke="#555" stroke-width="0.5"/>
<rect x="23.6" y="319.4" width="78.8" height="6.5" fill="#a6cee3"/>
<rect x="102.4" y="319.4" width="80.7" height="6.5" fill="#2171b5"/>
<rect x="102.4" y="328.6" width="80.7" height="81.2" fill="#1c49a1"/>
<rect x="23.6" y="409.8" width="78.8" height="77.5" fill="#1c49a1"/>
<rect x="102.4" y="328.6" width="6" height="81.2" fill="url(#cbl)"/>
<rect x="102.4" y="401.8" width="80.7" height="8" fill="url(#cbb)"/>
<rect x="23.6" y="409.8" width="5" height="77.5" fill="url(#cbl)"/>
<rect x="23.6" y="481.3" width="78.8" height="6" fill="url(#cbb)"/>
<rect x="23.6" y="328.6" width="12.6" height="81.2" fill="url(#cfl)"/>
<rect x="23.6" y="399.40000000000003" width="78.8" height="10.4" fill="url(#cfb)"/>
<rect x="102.4" y="409.8" width="11.8" height="77.5" fill="url(#cfl)"/>
<rect x="102.4" y="474.5" width="80.7" height="12.8" fill="url(#cfb)"/>
<path d="M102.4 328.6V487.3" stroke="#4550b6" stroke-width="1.6"/>
<path d="M101.5 328.6V487.3M103.5 328.6V487.3M23.6 409.8H183.1" stroke="#fff" stroke-width="0.5" opacity="0.75"/>
<rect x="200.8" y="295.2" width="22.2" height="21.6" fill="#fff" stroke="#333" stroke-width="0.6"/>
<rect x="205.2" y="299.6" width="5" height="4.6" fill="#a6cee3" stroke="#555" stroke-width="0.4"/>
<rect x="205.2" y="307.8" width="5" height="4.6" fill="#2171b5" stroke="#555" stroke-width="0.4"/>
<g font-family="'Liberation Sans',sans-serif" font-size="6.6" fill="#111"><text x="215.3" y="304.6">1</text><text x="215.3" y="312.8">2</text></g></g>
<g id="panelD"><rect x="295.4" y="311.2" width="312.1" height="152.8" fill="#1b2d86"/>
<path d="M296.4 314.5h2.1M302.7 314.5h1.0M305.8 314.5h2.1M312.0 314.5h1.0M317.2 314.5h1.0M322.4 314.5h1.0M329.7 314.5h1.0M331.8 314.5h2.1M334.9 314.5h1.0M338.1 314.5h2.1M341.2 314.5h3.1M345.3 314.5h1.0M351.6 314.5h1.0M354.7 314.5h1.0M362.0 314.5h1.0M365.1 314.5h2.1M371.3 314.5h4.2M378.6 314.5h1.0M383.8 314.5h2.1M386.9 314.5h2.1M390.1 314.5h1.0M394.2 314.5h1.0M398.4 314.5h1.0M401.5 314.5h1.0M407.8 314.5h1.0M410.9 314.5h7.3M419.2 314.5h2.1M425.4 314.5h1.0M430.6 314.5h1.0M439.0 314.5h1.0M447.3 314.5h1.0M449.4 314.5h1.0M451.4 314.5h1.0M454.6 314.5h3.1M459.8 314.5h1.0M465.0 314.5h2.1M472.3 314.5h1.0M480.6 314.5h1.0M483.7 314.5h1.0M486.8 314.5h1.0M488.9 314.5h1.0M498.3 314.5h2.1M504.5 314.5h1.0M510.7 314.5h2.1M517.0 314.5h1.0M521.2 314.5h2.1M527.4 314.5h1.0M530.5 314.5h1.0M532.6 314.5h1.0M538.8 314.5h2.1M542.0 314.5h1.0M544.0 314.5h2.1M547.2 314.5h1.0M556.5 314.5h1.0M561.7 314.5h2.1M564.8 314.5h1.0M568.0 314.5h1.0M570.0 314.5h2.1M573.2 314.5h2.1M580.5 314.5h1.0M588.8 314.5h1.0M591.9 314.5h1.0M597.1 314.5h1.0M599.2 314.5h1.0M603.3 314.5h1.0" stroke="#ecdc30" stroke-width="6.74" fill="none"/>
<path d="M319.3 314.5h1.0M321.4 314.5h1.0M349.5 314.5h1.0M357.8 314.5h1.0M367.2 314.5h1.0M377.6 314.5h1.0M379.7 314.5h1.0M381.7 314.5h1.0M385.9 314.5h1.0M396.3 314.5h2.1M423.4 314.5h1.0M436.9 314.5h1.0M444.2 314.5h1.0M446.2 314.5h1.0M452.5 314.5h1.0M468.1 314.5h1.0M476.4 314.5h1.0M497.2 314.5h1.0M500.3 314.5h1.0M512.8 314.5h2.1M520.1 314.5h1.0M524.3 314.5h1.0M529.5 314.5h1.0M534.7 314.5h1.0M558.6 314.5h2.1M586.7 314.5h2.1M604.4 314.5h1.0" stroke="#b9b04a" stroke-width="6.74" fill="none"/>
<path d="M308.9 314.5h1.0M318.3 314.5h1.0M325.6 314.5h1.0M358.9 314.5h2.1M364.1 314.5h1.0M368.2 314.5h1.0M375.5 314.5h2.1M389.0 314.5h1.0M395.3 314.5h1.0M405.7 314.5h1.0M422.3 314.5h1.0M426.5 314.5h1.0M431.7 314.5h1.0M437.9 314.5h1.0M440.0 314.5h1.0M445.2 314.5h1.0M460.8 314.5h1.0M479.5 314.5h1.0M493.1 314.5h1.0M496.2 314.5h1.0M503.5 314.5h1.0M525.3 314.5h1.0M535.7 314.5h1.0M540.9 314.5h1.0M543.0 314.5h1.0M552.4 314.5h1.0M554.4 314.5h2.1M557.6 314.5h1.0M560.7 314.5h1.0M575.2 314.5h1.0M585.7 314.5h1.0M596.1 314.5h1.0" stroke="#5d6078" stroke-width="6.74" fill="none"/>
<path d="M296.4 321.2h1.0M304.8 321.2h2.1M307.9 321.2h2.1M311.0 321.2h2.1M316.2 321.2h2.1M321.4 321.2h3.1M332.9 321.2h1.0M334.9 321.2h1.0M340.1 321.2h1.0M345.3 321.2h3.1M353.7 321.2h1.0M356.8 321.2h4.2M363.0 321.2h1.0M365.1 321.2h1.0M370.3 321.2h1.0M372.4 321.2h1.0M374.5 321.2h1.0M377.6 321.2h2.1M381.7 321.2h1.0M383.8 321.2h1.0M386.9 321.2h2.1M391.1 321.2h1.0M393.2 321.2h3.1M397.4 321.2h2.1M401.5 321.2h1.0M407.8 321.2h1.0M411.9 321.2h1.0M414.0 321.2h2.1M419.2 321.2h1.0M423.4 321.2h3.1M430.6 321.2h1.0M434.8 321.2h1.0M436.9 321.2h1.0M439.0 321.2h1.0M443.1 321.2h1.0M449.4 321.2h1.0M454.6 321.2h4.2M459.8 321.2h1.0M462.9 321.2h1.0M465.0 321.2h3.1M471.2 321.2h1.0M475.4 321.2h3.1M479.5 321.2h2.1M483.7 321.2h1.0M488.9 321.2h1.0M491.0 321.2h1.0M497.2 321.2h3.1M501.4 321.2h1.0M504.5 321.2h1.0M508.7 321.2h1.0M510.7 321.2h2.1M517.0 321.2h6.2M524.3 321.2h1.0M529.5 321.2h2.1M538.8 321.2h1.0M543.0 321.2h2.1M546.1 321.2h3.1M554.4 321.2h1.0M556.5 321.2h2.1M559.6 321.2h1.0M565.9 321.2h1.0M568.0 321.2h1.0M573.2 321.2h3.1M577.3 321.2h1.0M579.4 321.2h1.0M582.5 321.2h1.0M586.7 321.2h1.0M588.8 321.2h1.0M597.1 321.2h1.0M599.2 321.2h1.0M603.3 321.2h1.0" stroke="#ecdc30" stroke-width="6.74" fill="none"/>
<path d="M301.6 321.2h1.0M333.9 321.2h1.0M351.6 321.2h1.0M355.7 321.2h1.0M389.0 321.2h1.0M450.4 321.2h1.0M452.5 321.2h1.0M468.1 321.2h1.0M492.0 321.2h2.1M496.2 321.2h1.0M502.4 321.2h1.0M507.6 321.2h1.0M532.6 321.2h1.0M534.7 321.2h1.0M545.1 321.2h1.0M550.3 321.2h1.0M552.4 321.2h2.1M595.0 321.2h1.0M600.2 321.2h1.0" stroke="#b9b04a" stroke-width="6.74" fill="none"/>
<path d="M297.5 321.2h1.0M302.7 321.2h1.0M327.7 321.2h1.0M341.2 321.2h1.0M348.5 321.2h1.0M354.7 321.2h1.0M362.0 321.2h1.0M367.2 321.2h1.0M373.4 321.2h1.0M400.5 321.2h1.0M416.1 321.2h1.0M418.2 321.2h1.0M421.3 321.2h1.0M428.6 321.2h1.0M446.2 321.2h1.0M451.4 321.2h1.0M461.9 321.2h1.0M470.2 321.2h1.0M472.3 321.2h1.0M484.7 321.2h1.0M489.9 321.2h1.0M525.3 321.2h1.0M536.8 321.2h2.1M539.9 321.2h1.0M561.7 321.2h1.0M578.4 321.2h1.0M585.7 321.2h1.0M589.8 321.2h2.1M594.0 321.2h1.0M602.3 321.2h1.0" stroke="#5d6078" stroke-width="6.74" fill="none"/>
<path d="M302.7 327.8h2.1M307.9 327.8h2.1M311.0 327.8h2.1M316.2 327.8h1.0M318.3 327.8h3.1M323.5 327.8h1.0M325.6 327.8h1.0M331.8 327.8h2.1M334.9 327.8h1.0M340.1 327.8h1.0M343.3 327.8h4.2M351.6 327.8h1.0M353.7 327.8h1.0M355.7 327.8h2.1M358.9 327.8h4.2M366.1 327.8h1.0M368.2 327.8h1.0M375.5 327.8h1.0M378.6 327.8h2.1M381.7 327.8h1.0M386.9 327.8h2.1M393.2 327.8h1.0M396.3 327.8h1.0M406.7 327.8h1.0M415.0 327.8h1.0M420.2 327.8h1.0M423.4 327.8h3.1M428.6 327.8h2.1M436.9 327.8h1.0M442.1 327.8h3.1M447.3 327.8h4.2M454.6 327.8h4.2M460.8 327.8h1.0M463.9 327.8h2.1M467.1 327.8h2.1M473.3 327.8h1.0M475.4 327.8h2.1M479.5 327.8h2.1M483.7 327.8h1.0M485.8 327.8h4.2M491.0 327.8h1.0M497.2 327.8h4.2M508.7 327.8h2.1M512.8 327.8h2.1M517.0 327.8h3.1M521.2 327.8h1.0M527.4 327.8h4.2M534.7 327.8h2.1M539.9 327.8h1.0M542.0 327.8h1.0M544.0 327.8h1.0M548.2 327.8h1.0M555.5 327.8h1.0M562.8 327.8h1.0M566.9 327.8h2.1M578.4 327.8h2.1M583.6 327.8h3.1M588.8 327.8h1.0M590.9 327.8h2.1M597.1 327.8h4.2M603.3 327.8h1.0" stroke="#ecdc30" stroke-width="6.74" fill="none"/>
<path d="M298.5 327.8h1.0M313.1 327.8h1.0M326.6 327.8h1.0M330.8 327.8h1.0M371.3 327.8h1.0M377.6 327.8h1.0M383.8 327.8h1.0M390.1 327.8h1.0M414.0 327.8h1.0M416.1 327.8h1.0M433.8 327.8h1.0M453.5 327.8h1.0M459.8 327.8h1.0M466.0 327.8h1.0M511.8 327.8h1.0M522.2 327.8h1.0M537.8 327.8h1.0M549.2 327.8h1.0M576.3 327.8h2.1M601.3 327.8h2.1M604.4 327.8h2.1" stroke="#b9b04a" stroke-width="6.74" fill="none"/>
<path d="M297.5 327.8h1.0M300.6 327.8h1.0M322.4 327.8h1.0M342.2 327.8h1.0M357.8 327.8h1.0M365.1 327.8h1.0M376.5 327.8h1.0M380.7 327.8h1.0M402.6 327.8h1.0M410.9 327.8h1.0M431.7 327.8h1.0M435.8 327.8h1.0M462.9 327.8h1.0M474.3 327.8h1.0M482.7 327.8h1.0M484.7 327.8h1.0M493.1 327.8h1.0M503.5 327.8h2.1M510.7 327.8h1.0M524.3 327.8h1.0M554.4 327.8h1.0M556.5 327.8h2.1M563.8 327.8h1.0M592.9 327.8h1.0" stroke="#5d6078" stroke-width="6.74" fill="none"/>
<path d="M296.4 334.5h1.0M302.7 334.5h1.0M306.8 334.5h3.1M312.0 334.5h1.0M316.2 334.5h2.1M321.4 334.5h1.0M325.6 334.5h1.0M327.7 334.5h1.0M332.9 334.5h1.0M337.0 334.5h1.0M339.1 334.5h1.0M344.3 334.5h6.2M351.6 334.5h2.1M354.7 334.5h2.1M357.8 334.5h1.0M359.9 334.5h1.0M369.3 334.5h1.0M373.4 334.5h2.1M378.6 334.5h1.0M381.7 334.5h3.1M385.9 334.5h3.1M390.1 334.5h2.1M396.3 334.5h1.0M398.4 334.5h1.0M406.7 334.5h1.0M414.0 334.5h3.1M420.2 334.5h1.0M425.4 334.5h1.0M428.6 334.5h1.0M437.9 334.5h1.0M440.0 334.5h1.0M442.1 334.5h3.1M448.3 334.5h3.1M455.6 334.5h3.1M459.8 334.5h2.1M465.0 334.5h4.2M471.2 334.5h2.1M476.4 334.5h3.1M485.8 334.5h2.1M488.9 334.5h1.0M491.0 334.5h2.1M496.2 334.5h4.2M501.4 334.5h1.0M510.7 334.5h2.1M514.9 334.5h1.0M517.0 334.5h1.0M520.1 334.5h3.1M527.4 334.5h2.1M530.5 334.5h1.0M535.7 334.5h1.0M537.8 334.5h4.2M545.1 334.5h3.1M550.3 334.5h1.0M554.4 334.5h1.0M558.6 334.5h2.1M565.9 334.5h1.0M568.0 334.5h1.0M573.2 334.5h1.0M576.3 334.5h1.0M582.5 334.5h1.0M584.6 334.5h3.1M588.8 334.5h4.2M596.1 334.5h2.1M599.2 334.5h1.0M602.3 334.5h1.0M605.4 334.5h1.0" stroke="#ecdc30" stroke-width="6.74" fill="none"/>
<path d="M310.0 334.5h1.0M313.1 334.5h1.0M320.4 334.5h1.0M328.7 334.5h1.0M330.8 334.5h2.1M336.0 334.5h1.0M342.2 334.5h1.0M353.7 334.5h1.0M365.1 334.5h3.1M372.4 334.5h1.0M376.5 334.5h1.0M395.3 334.5h1.0M401.5 334.5h1.0M409.8 334.5h1.0M421.3 334.5h1.0M424.4 334.5h1.0M429.6 334.5h1.0M434.8 334.5h1.0M439.0 334.5h1.0M446.2 334.5h1.0M453.5 334.5h2.1M479.5 334.5h1.0M483.7 334.5h1.0M494.1 334.5h1.0M502.4 334.5h1.0M512.8 334.5h1.0M542.0 334.5h1.0M544.0 334.5h1.0M549.2 334.5h1.0M551.3 334.5h1.0M555.5 334.5h1.0M587.7 334.5h1.0" stroke="#b9b04a" stroke-width="6.74" fill="none"/>
<path d="M295.4 334.5h1.0M297.5 334.5h2.1M322.4 334.5h1.0M350.5 334.5h1.0M360.9 334.5h2.1M364.1 334.5h1.0M370.3 334.5h2.1M375.5 334.5h1.0M394.2 334.5h1.0M404.6 334.5h1.0M407.8 334.5h1.0M430.6 334.5h1.0M433.8 334.5h1.0M435.8 334.5h1.0M470.2 334.5h1.0M473.3 334.5h1.0M487.9 334.5h1.0M489.9 334.5h1.0M504.5 334.5h1.0M508.7 334.5h1.0M513.9 334.5h1.0M523.2 334.5h1.0M525.3 334.5h1.0M531.6 334.5h1.0M536.8 334.5h1.0M543.0 334.5h1.0M548.2 334.5h1.0M562.8 334.5h1.0M572.1 334.5h1.0M579.4 334.5h1.0M598.1 334.5h1.0" stroke="#5d6078" stroke-width="6.74" fill="none"/>
<path d="M297.5 341.1h1.0M301.6 341.1h1.0M312.0 341.1h2.1M320.4 341.1h2.1M325.6 341.1h1.0M330.8 341.1h3.1M336.0 341.1h2.1M340.1 341.1h1.0M343.3 341.1h1.0M345.3 341.1h1.0M348.5 341.1h1.0M350.5 341.1h2.1M353.7 341.1h1.0M357.8 341.1h1.0M360.9 341.1h2.1M364.1 341.1h1.0M366.1 341.1h1.0M370.3 341.1h2.1M375.5 341.1h1.0M379.7 341.1h1.0M381.7 341.1h2.1M384.9 341.1h1.0M386.9 341.1h1.0M394.2 341.1h1.0M396.3 341.1h3.1M400.5 341.1h1.0M404.6 341.1h1.0M406.7 341.1h3.1M410.9 341.1h1.0M415.0 341.1h1.0M417.1 341.1h2.1M420.2 341.1h4.2M430.6 341.1h1.0M434.8 341.1h2.1M451.4 341.1h1.0M454.6 341.1h2.1M460.8 341.1h3.1M465.0 341.1h2.1M468.1 341.1h1.0M470.2 341.1h1.0M472.3 341.1h1.0M474.3 341.1h1.0M476.4 341.1h2.1M479.5 341.1h2.1M483.7 341.1h2.1M486.8 341.1h1.0M488.9 341.1h3.1M497.2 341.1h5.2M503.5 341.1h1.0M506.6 341.1h1.0M509.7 341.1h5.2M517.0 341.1h1.0M519.1 341.1h1.0M521.2 341.1h1.0M530.5 341.1h1.0M532.6 341.1h1.0M535.7 341.1h2.1M542.0 341.1h3.1M546.1 341.1h1.0M548.2 341.1h1.0M552.4 341.1h1.0M554.4 341.1h1.0M556.5 341.1h1.0M558.6 341.1h1.0M561.7 341.1h1.0M571.1 341.1h1.0M573.2 341.1h2.1M578.4 341.1h1.0M586.7 341.1h3.1M591.9 341.1h1.0M595.0 341.1h1.0M597.1 341.1h1.0M605.4 341.1h1.0" stroke="#ecdc30" stroke-width="6.74" fill="none"/>
<path d="M300.6 341.1h1.0M302.7 341.1h1.0M305.8 341.1h4.2M316.2 341.1h1.0M318.3 341.1h1.0M323.5 341.1h1.0M354.7 341.1h1.0M373.4 341.1h1.0M388.0 341.1h1.0M393.2 341.1h1.0M414.0 341.1h1.0M416.1 341.1h1.0M425.4 341.1h1.0M442.1 341.1h1.0M448.3 341.1h1.0M485.8 341.1h1.0M496.2 341.1h1.0M522.2 341.1h1.0M527.4 341.1h2.1M537.8 341.1h2.1M555.5 341.1h1.0M579.4 341.1h1.0M582.5 341.1h1.0M585.7 341.1h1.0M589.8 341.1h1.0M600.2 341.1h1.0" stroke="#b9b04a" stroke-width="6.74" fill="none"/>
<path d="M317.2 341.1h1.0M327.7 341.1h1.0M334.9 341.1h1.0M341.2 341.1h1.0M349.5 341.1h1.0M352.6 341.1h1.0M365.1 341.1h1.0M372.4 341.1h1.0M378.6 341.1h1.0M383.8 341.1h1.0M389.0 341.1h1.0M395.3 341.1h1.0M411.9 341.1h1.0M436.9 341.1h1.0M439.0 341.1h1.0M449.4 341.1h1.0M475.4 341.1h1.0M504.5 341.1h1.0M520.1 341.1h1.0M526.4 341.1h1.0M539.9 341.1h1.0M550.3 341.1h1.0M553.4 341.1h1.0M559.6 341.1h1.0M562.8 341.1h1.0M568.0 341.1h1.0M577.3 341.1h1.0M581.5 341.1h1.0M599.2 341.1h1.0M602.3 341.1h1.0" stroke="#5d6078" stroke-width="6.74" fill="none"/>
<path d="M297.5 347.7h1.0M301.6 347.7h2.1M305.8 347.7h4.2M311.0 347.7h2.1M319.3 347.7h1.0M322.4 347.7h5.2M332.9 347.7h2.1M337.0 347.7h2.1M345.3 347.7h1.0M347.4 347.7h2.1M351.6 347.7h1.0M353.7 347.7h1.0M355.7 347.7h1.0M358.9 347.7h2.1M364.1 347.7h2.1M369.3 347.7h3.1M373.4 347.7h1.0M376.5 347.7h3.1M380.7 347.7h2.1M383.8 347.7h1.0M386.9 347.7h2.1M396.3 347.7h1.0M398.4 347.7h1.0M400.5 347.7h2.1M407.8 347.7h1.0M410.9 347.7h1.0M416.1 347.7h1.0M423.4 347.7h1.0M425.4 347.7h1.0M429.6 347.7h1.0M436.9 347.7h1.0M439.0 347.7h1.0M442.1 347.7h3.1M448.3 347.7h2.1M451.4 347.7h1.0M453.5 347.7h2.1M459.8 347.7h1.0M465.0 347.7h1.0M468.1 347.7h1.0M472.3 347.7h1.0M475.4 347.7h2.1M480.6 347.7h2.1M487.9 347.7h1.0M492.0 347.7h1.0M495.1 347.7h4.2M500.3 347.7h1.0M507.6 347.7h8.3M519.1 347.7h2.1M524.3 347.7h1.0M528.4 347.7h2.1M532.6 347.7h1.0M535.7 347.7h1.0M537.8 347.7h1.0M540.9 347.7h1.0M544.0 347.7h2.1M548.2 347.7h2.1M554.4 347.7h2.1M559.6 347.7h1.0M561.7 347.7h2.1M568.0 347.7h1.0M572.1 347.7h1.0M574.2 347.7h2.1M579.4 347.7h1.0M585.7 347.7h1.0M587.7 347.7h4.2M592.9 347.7h1.0M597.1 347.7h1.0M603.3 347.7h1.0M606.5 347.7h1.0" stroke="#ecdc30" stroke-width="6.74" fill="none"/>
<path d="M310.0 347.7h1.0M315.2 347.7h1.0M336.0 347.7h1.0M340.1 347.7h1.0M343.3 347.7h1.0M363.0 347.7h1.0M390.1 347.7h1.0M402.6 347.7h1.0M414.0 347.7h2.1M435.8 347.7h1.0M462.9 347.7h1.0M470.2 347.7h1.0M479.5 347.7h1.0M491.0 347.7h1.0M499.3 347.7h1.0M506.6 347.7h1.0M530.5 347.7h1.0M550.3 347.7h1.0M557.6 347.7h1.0M578.4 347.7h1.0M583.6 347.7h1.0M586.7 347.7h1.0M591.9 347.7h1.0" stroke="#b9b04a" stroke-width="6.74" fill="none"/>
<path d="M295.4 347.7h2.1M304.8 347.7h1.0M314.1 347.7h1.0M320.4 347.7h1.0M328.7 347.7h2.1M334.9 347.7h1.0M339.1 347.7h1.0M362.0 347.7h1.0M366.1 347.7h1.0M368.2 347.7h1.0M379.7 347.7h1.0M395.3 347.7h1.0M403.6 347.7h1.0M406.7 347.7h1.0M419.2 347.7h1.0M428.6 347.7h1.0M431.7 347.7h1.0M445.2 347.7h1.0M452.5 347.7h1.0M477.5 347.7h1.0M484.7 347.7h3.1M517.0 347.7h1.0M521.2 347.7h1.0M539.9 347.7h1.0M558.6 347.7h1.0M576.3 347.7h1.0M584.6 347.7h1.0M596.1 347.7h1.0M601.3 347.7h1.0M604.4 347.7h1.0" stroke="#5d6078" stroke-width="6.74" fill="none"/>
<path d="M296.4 354.4h1.0M298.5 354.4h1.0M304.8 354.4h4.2M312.0 354.4h1.0M320.4 354.4h3.1M332.9 354.4h1.0M341.2 354.4h1.0M343.3 354.4h1.0M346.4 354.4h2.1M349.5 354.4h1.0M351.6 354.4h1.0M353.7 354.4h1.0M359.9 354.4h1.0M364.1 354.4h1.0M366.1 354.4h1.0M370.3 354.4h1.0M374.5 354.4h1.0M378.6 354.4h1.0M383.8 354.4h2.1M386.9 354.4h2.1M394.2 354.4h3.1M398.4 354.4h1.0M401.5 354.4h2.1M404.6 354.4h1.0M406.7 354.4h2.1M410.9 354.4h1.0M414.0 354.4h1.0M416.1 354.4h1.0M419.2 354.4h1.0M421.3 354.4h1.0M423.4 354.4h2.1M428.6 354.4h1.0M431.7 354.4h1.0M439.0 354.4h1.0M443.1 354.4h1.0M446.2 354.4h2.1M450.4 354.4h4.2M455.6 354.4h3.1M459.8 354.4h1.0M462.9 354.4h1.0M465.0 354.4h3.1M472.3 354.4h1.0M475.4 354.4h2.1M479.5 354.4h2.1M483.7 354.4h2.1M486.8 354.4h3.1M491.0 354.4h1.0M497.2 354.4h3.1M503.5 354.4h1.0M506.6 354.4h1.0M508.7 354.4h1.0M510.7 354.4h1.0M512.8 354.4h1.0M517.0 354.4h3.1M525.3 354.4h2.1M529.5 354.4h1.0M532.6 354.4h1.0M534.7 354.4h1.0M539.9 354.4h1.0M544.0 354.4h1.0M547.2 354.4h1.0M549.2 354.4h2.1M552.4 354.4h1.0M554.4 354.4h1.0M557.6 354.4h1.0M560.7 354.4h1.0M563.8 354.4h1.0M568.0 354.4h1.0M574.2 354.4h1.0M577.3 354.4h1.0M579.4 354.4h1.0M585.7 354.4h1.0M588.8 354.4h3.1M592.9 354.4h1.0M597.1 354.4h1.0M599.2 354.4h1.0M604.4 354.4h2.1" stroke="#ecdc30" stroke-width="6.74" fill="none"/>
<path d="M302.7 354.4h1.0M308.9 354.4h2.1M314.1 354.4h1.0M316.2 354.4h1.0M334.9 354.4h1.0M338.1 354.4h1.0M340.1 354.4h1.0M345.3 354.4h1.0M354.7 354.4h1.0M373.4 354.4h1.0M376.5 354.4h2.1M381.7 354.4h1.0M390.1 354.4h1.0M415.0 354.4h1.0M442.1 354.4h1.0M444.2 354.4h2.1M448.3 354.4h1.0M454.6 354.4h1.0M500.3 354.4h1.0M507.6 354.4h1.0M509.7 354.4h1.0M513.9 354.4h1.0M521.2 354.4h1.0M524.3 354.4h1.0M536.8 354.4h1.0M542.0 354.4h1.0M545.1 354.4h1.0M556.5 354.4h1.0M558.6 354.4h2.1M564.8 354.4h1.0M601.3 354.4h1.0" stroke="#b9b04a" stroke-width="6.74" fill="none"/>
<path d="M299.6 354.4h1.0M323.5 354.4h1.0M331.8 354.4h1.0M333.9 354.4h1.0M344.3 354.4h1.0M363.0 354.4h1.0M365.1 354.4h1.0M380.7 354.4h1.0M393.2 354.4h1.0M397.4 354.4h1.0M405.7 354.4h1.0M408.8 354.4h1.0M417.1 354.4h1.0M427.5 354.4h1.0M433.8 354.4h1.0M437.9 354.4h1.0M440.0 354.4h1.0M449.4 354.4h1.0M460.8 354.4h1.0M468.1 354.4h1.0M470.2 354.4h1.0M481.6 354.4h1.0M489.9 354.4h1.0M501.4 354.4h1.0M505.5 354.4h1.0M514.9 354.4h1.0M530.5 354.4h1.0M535.7 354.4h1.0M537.8 354.4h1.0M546.1 354.4h1.0M548.2 354.4h1.0M571.1 354.4h2.1M576.3 354.4h1.0M587.7 354.4h1.0M603.3 354.4h1.0" stroke="#5d6078" stroke-width="6.74" fill="none"/>
<path d="M296.4 361.0h1.0M301.6 361.0h5.2M307.9 361.0h2.1M312.0 361.0h1.0M316.2 361.0h1.0M325.6 361.0h1.0M332.9 361.0h1.0M338.1 361.0h1.0M342.2 361.0h2.1M345.3 361.0h1.0M347.4 361.0h1.0M353.7 361.0h2.1M359.9 361.0h2.1M363.0 361.0h1.0M367.2 361.0h2.1M371.3 361.0h4.2M377.6 361.0h2.1M382.8 361.0h1.0M386.9 361.0h2.1M391.1 361.0h1.0M394.2 361.0h2.1M407.8 361.0h1.0M411.9 361.0h1.0M415.0 361.0h1.0M420.2 361.0h2.1M423.4 361.0h1.0M425.4 361.0h1.0M429.6 361.0h2.1M435.8 361.0h2.1M439.0 361.0h2.1M444.2 361.0h1.0M446.2 361.0h1.0M450.4 361.0h1.0M455.6 361.0h2.1M459.8 361.0h1.0M462.9 361.0h3.1M467.1 361.0h1.0M475.4 361.0h3.1M481.6 361.0h2.1M489.9 361.0h4.2M498.3 361.0h2.1M504.5 361.0h1.0M507.6 361.0h1.0M513.9 361.0h2.1M519.1 361.0h2.1M523.2 361.0h1.0M534.7 361.0h2.1M538.8 361.0h1.0M542.0 361.0h1.0M544.0 361.0h1.0M546.1 361.0h4.2M554.4 361.0h2.1M558.6 361.0h1.0M561.7 361.0h1.0M564.8 361.0h1.0M568.0 361.0h1.0M573.2 361.0h1.0M576.3 361.0h1.0M579.4 361.0h3.1M585.7 361.0h2.1M588.8 361.0h2.1M592.9 361.0h1.0M596.1 361.0h4.2M601.3 361.0h1.0" stroke="#ecdc30" stroke-width="6.74" fill="none"/>
<path d="M299.6 361.0h1.0M337.0 361.0h1.0M350.5 361.0h1.0M357.8 361.0h1.0M362.0 361.0h1.0M364.1 361.0h2.1M375.5 361.0h1.0M392.2 361.0h1.0M401.5 361.0h1.0M405.7 361.0h1.0M422.3 361.0h1.0M426.5 361.0h1.0M437.9 361.0h1.0M449.4 361.0h1.0M486.8 361.0h1.0M517.0 361.0h2.1M559.6 361.0h1.0M578.4 361.0h1.0M583.6 361.0h1.0M590.9 361.0h1.0M600.2 361.0h1.0M602.3 361.0h1.0" stroke="#b9b04a" stroke-width="6.74" fill="none"/>
<path d="M310.0 361.0h1.0M318.3 361.0h1.0M322.4 361.0h1.0M327.7 361.0h1.0M334.9 361.0h1.0M349.5 361.0h1.0M383.8 361.0h1.0M389.0 361.0h2.1M397.4 361.0h1.0M402.6 361.0h1.0M406.7 361.0h1.0M417.1 361.0h1.0M427.5 361.0h2.1M442.1 361.0h1.0M448.3 361.0h1.0M468.1 361.0h1.0M479.5 361.0h1.0M487.9 361.0h1.0M497.2 361.0h1.0M508.7 361.0h3.1M522.2 361.0h1.0M524.3 361.0h2.1M529.5 361.0h1.0M533.6 361.0h1.0M539.9 361.0h1.0M551.3 361.0h3.1M563.8 361.0h1.0M591.9 361.0h1.0" stroke="#5d6078" stroke-width="6.74" fill="none"/>
<path d="M296.4 367.7h1.0M301.6 367.7h2.1M308.9 367.7h1.0M311.0 367.7h2.1M319.3 367.7h1.0M321.4 367.7h2.1M332.9 367.7h1.0M345.3 367.7h1.0M348.5 367.7h2.1M353.7 367.7h1.0M357.8 367.7h1.0M359.9 367.7h1.0M362.0 367.7h3.1M370.3 367.7h6.2M381.7 367.7h1.0M384.9 367.7h1.0M386.9 367.7h1.0M390.1 367.7h1.0M395.3 367.7h1.0M399.4 367.7h2.1M402.6 367.7h1.0M407.8 367.7h1.0M411.9 367.7h1.0M414.0 367.7h3.1M420.2 367.7h2.1M430.6 367.7h1.0M437.9 367.7h2.1M444.2 367.7h2.1M447.3 367.7h2.1M453.5 367.7h4.2M459.8 367.7h1.0M462.9 367.7h1.0M465.0 367.7h3.1M472.3 367.7h1.0M474.3 367.7h3.1M479.5 367.7h1.0M484.7 367.7h1.0M486.8 367.7h3.1M491.0 367.7h1.0M497.2 367.7h4.2M502.4 367.7h1.0M504.5 367.7h1.0M509.7 367.7h2.1M513.9 367.7h1.0M519.1 367.7h2.1M524.3 367.7h1.0M527.4 367.7h1.0M529.5 367.7h2.1M538.8 367.7h3.1M543.0 367.7h3.1M548.2 367.7h2.1M553.4 367.7h2.1M557.6 367.7h2.1M566.9 367.7h2.1M570.0 367.7h1.0M573.2 367.7h2.1M585.7 367.7h1.0M588.8 367.7h1.0M591.9 367.7h2.1M596.1 367.7h1.0M599.2 367.7h1.0M606.5 367.7h1.0" stroke="#ecdc30" stroke-width="6.74" fill="none"/>
<path d="M307.9 367.7h1.0M313.1 367.7h1.0M317.2 367.7h1.0M325.6 367.7h2.1M333.9 367.7h1.0M339.1 367.7h1.0M343.3 367.7h1.0M347.4 367.7h1.0M356.8 367.7h1.0M388.0 367.7h2.1M396.3 367.7h1.0M398.4 367.7h1.0M419.2 367.7h1.0M422.3 367.7h2.1M429.6 367.7h1.0M436.9 367.7h1.0M441.0 367.7h3.1M449.4 367.7h1.0M473.3 367.7h1.0M485.8 367.7h1.0M493.1 367.7h1.0M503.5 367.7h1.0M512.8 367.7h1.0M561.7 367.7h1.0M576.3 367.7h1.0M579.4 367.7h1.0M597.1 367.7h1.0M603.3 367.7h1.0" stroke="#b9b04a" stroke-width="6.74" fill="none"/>
<path d="M300.6 367.7h1.0M315.2 367.7h2.1M320.4 367.7h1.0M338.1 367.7h1.0M341.2 367.7h1.0M351.6 367.7h1.0M368.2 367.7h1.0M377.6 367.7h1.0M385.9 367.7h1.0M409.8 367.7h2.1M425.4 367.7h1.0M460.8 367.7h1.0M489.9 367.7h1.0M508.7 367.7h1.0M517.0 367.7h1.0M521.2 367.7h1.0M534.7 367.7h1.0M562.8 367.7h1.0M580.5 367.7h1.0M582.5 367.7h1.0M586.7 367.7h1.0" stroke="#5d6078" stroke-width="6.74" fill="none"/>
<path d="M305.8 374.3h1.0M307.9 374.3h1.0M312.0 374.3h1.0M325.6 374.3h1.0M332.9 374.3h1.0M336.0 374.3h1.0M339.1 374.3h1.0M342.2 374.3h1.0M345.3 374.3h1.0M349.5 374.3h1.0M352.6 374.3h1.0M356.8 374.3h1.0M362.0 374.3h1.0M369.3 374.3h1.0M373.4 374.3h1.0M375.5 374.3h1.0M377.6 374.3h2.1M381.7 374.3h2.1M384.9 374.3h1.0M386.9 374.3h2.1M391.1 374.3h1.0M393.2 374.3h4.2M399.4 374.3h1.0M401.5 374.3h1.0M406.7 374.3h6.2M415.0 374.3h2.1M418.2 374.3h1.0M420.2 374.3h3.1M425.4 374.3h1.0M431.7 374.3h1.0M436.9 374.3h1.0M439.0 374.3h1.0M444.2 374.3h2.1M448.3 374.3h1.0M453.5 374.3h1.0M456.7 374.3h1.0M460.8 374.3h1.0M462.9 374.3h1.0M465.0 374.3h1.0M472.3 374.3h1.0M475.4 374.3h2.1M479.5 374.3h2.1M483.7 374.3h1.0M485.8 374.3h1.0M487.9 374.3h3.1M497.2 374.3h4.2M503.5 374.3h1.0M507.6 374.3h1.0M510.7 374.3h1.0M512.8 374.3h2.1M517.0 374.3h5.2M524.3 374.3h1.0M526.4 374.3h1.0M528.4 374.3h1.0M544.0 374.3h2.1M547.2 374.3h1.0M555.5 374.3h1.0M557.6 374.3h1.0M559.6 374.3h4.2M574.2 374.3h2.1M578.4 374.3h2.1M583.6 374.3h1.0M585.7 374.3h1.0M588.8 374.3h1.0M590.9 374.3h2.1M594.0 374.3h1.0M597.1 374.3h1.0M599.2 374.3h2.1" stroke="#ecdc30" stroke-width="6.74" fill="none"/>
<path d="M296.4 374.3h1.0M306.8 374.3h1.0M317.2 374.3h1.0M319.3 374.3h1.0M321.4 374.3h1.0M340.1 374.3h1.0M351.6 374.3h1.0M354.7 374.3h1.0M358.9 374.3h1.0M363.0 374.3h1.0M365.1 374.3h1.0M390.1 374.3h1.0M419.2 374.3h1.0M423.4 374.3h1.0M428.6 374.3h1.0M455.6 374.3h1.0M474.3 374.3h1.0M486.8 374.3h1.0M508.7 374.3h1.0M535.7 374.3h1.0M546.1 374.3h1.0M550.3 374.3h1.0M554.4 374.3h1.0M580.5 374.3h1.0M582.5 374.3h1.0M586.7 374.3h1.0M595.0 374.3h1.0" stroke="#b9b04a" stroke-width="6.74" fill="none"/>
<path d="M297.5 374.3h2.1M313.1 374.3h1.0M316.2 374.3h1.0M318.3 374.3h1.0M328.7 374.3h1.0M334.9 374.3h1.0M341.2 374.3h1.0M359.9 374.3h1.0M368.2 374.3h1.0M371.3 374.3h1.0M376.5 374.3h1.0M398.4 374.3h1.0M402.6 374.3h1.0M424.4 374.3h1.0M427.5 374.3h1.0M437.9 374.3h1.0M447.3 374.3h1.0M449.4 374.3h1.0M451.4 374.3h1.0M459.8 374.3h1.0M463.9 374.3h1.0M466.0 374.3h1.0M470.2 374.3h2.1M478.5 374.3h1.0M493.1 374.3h1.0M501.4 374.3h1.0M516.0 374.3h1.0M522.2 374.3h1.0M537.8 374.3h1.0M540.9 374.3h1.0M543.0 374.3h1.0M548.2 374.3h1.0M558.6 374.3h1.0M568.0 374.3h1.0M571.1 374.3h1.0M596.1 374.3h1.0M598.1 374.3h1.0" stroke="#5d6078" stroke-width="6.74" fill="none"/>
<path d="M296.4 381.0h1.0M301.6 381.0h2.1M305.8 381.0h3.1M310.0 381.0h1.0M312.0 381.0h1.0M316.2 381.0h1.0M320.4 381.0h4.2M327.7 381.0h1.0M331.8 381.0h4.2M337.0 381.0h1.0M341.2 381.0h1.0M343.3 381.0h1.0M345.3 381.0h1.0M348.5 381.0h2.1M351.6 381.0h3.1M355.7 381.0h1.0M358.9 381.0h2.1M365.1 381.0h1.0M371.3 381.0h1.0M373.4 381.0h1.0M375.5 381.0h1.0M381.7 381.0h1.0M383.8 381.0h2.1M386.9 381.0h3.1M395.3 381.0h1.0M398.4 381.0h1.0M401.5 381.0h1.0M418.2 381.0h1.0M421.3 381.0h5.2M429.6 381.0h2.1M436.9 381.0h1.0M441.0 381.0h1.0M443.1 381.0h2.1M447.3 381.0h1.0M449.4 381.0h2.1M452.5 381.0h5.2M459.8 381.0h1.0M461.9 381.0h1.0M465.0 381.0h1.0M467.1 381.0h1.0M470.2 381.0h1.0M472.3 381.0h1.0M475.4 381.0h2.1M479.5 381.0h2.1M484.7 381.0h1.0M486.8 381.0h1.0M488.9 381.0h1.0M496.2 381.0h6.2M503.5 381.0h1.0M513.9 381.0h1.0M517.0 381.0h3.1M526.4 381.0h1.0M528.4 381.0h1.0M530.5 381.0h1.0M535.7 381.0h1.0M537.8 381.0h1.0M539.9 381.0h1.0M543.0 381.0h1.0M545.1 381.0h1.0M554.4 381.0h1.0M559.6 381.0h1.0M561.7 381.0h1.0M568.0 381.0h1.0M574.2 381.0h1.0M576.3 381.0h1.0M578.4 381.0h3.1M585.7 381.0h1.0M588.8 381.0h1.0M591.9 381.0h1.0M596.1 381.0h1.0M598.1 381.0h3.1M604.4 381.0h1.0" stroke="#ecdc30" stroke-width="6.74" fill="none"/>
<path d="M297.5 381.0h1.0M313.1 381.0h3.1M319.3 381.0h1.0M362.0 381.0h1.0M374.5 381.0h1.0M393.2 381.0h2.1M414.0 381.0h1.0M419.2 381.0h1.0M437.9 381.0h2.1M511.8 381.0h2.1M514.9 381.0h1.0M522.2 381.0h1.0M524.3 381.0h1.0M538.8 381.0h1.0M542.0 381.0h1.0M544.0 381.0h1.0M546.1 381.0h1.0M572.1 381.0h1.0M587.7 381.0h1.0M590.9 381.0h1.0M606.5 381.0h1.0" stroke="#b9b04a" stroke-width="6.74" fill="none"/>
<path d="M308.9 381.0h1.0M311.0 381.0h1.0M318.3 381.0h1.0M325.6 381.0h1.0M347.4 381.0h1.0M357.8 381.0h1.0M363.0 381.0h2.1M367.2 381.0h1.0M378.6 381.0h1.0M403.6 381.0h1.0M410.9 381.0h2.1M415.0 381.0h1.0M431.7 381.0h1.0M446.2 381.0h1.0M474.3 381.0h1.0M483.7 381.0h1.0M505.5 381.0h1.0M508.7 381.0h1.0M531.6 381.0h1.0M534.7 381.0h1.0M575.2 381.0h1.0M582.5 381.0h1.0M592.9 381.0h2.1M602.3 381.0h1.0" stroke="#5d6078" stroke-width="6.74" fill="none"/>
<path d="M300.6 387.6h2.1M305.8 387.6h1.0M307.9 387.6h2.1M312.0 387.6h1.0M318.3 387.6h2.1M322.4 387.6h1.0M325.6 387.6h1.0M327.7 387.6h1.0M329.7 387.6h1.0M331.8 387.6h2.1M334.9 387.6h1.0M338.1 387.6h3.1M343.3 387.6h1.0M345.3 387.6h1.0M347.4 387.6h1.0M349.5 387.6h1.0M351.6 387.6h1.0M353.7 387.6h1.0M359.9 387.6h1.0M365.1 387.6h1.0M371.3 387.6h1.0M373.4 387.6h1.0M375.5 387.6h2.1M378.6 387.6h1.0M381.7 387.6h1.0M383.8 387.6h1.0M386.9 387.6h2.1M390.1 387.6h1.0M396.3 387.6h1.0M398.4 387.6h1.0M401.5 387.6h1.0M411.9 387.6h3.1M419.2 387.6h5.2M425.4 387.6h1.0M429.6 387.6h1.0M437.9 387.6h1.0M440.0 387.6h1.0M449.4 387.6h2.1M452.5 387.6h4.2M457.7 387.6h1.0M459.8 387.6h1.0M462.9 387.6h1.0M465.0 387.6h2.1M468.1 387.6h1.0M470.2 387.6h1.0M474.3 387.6h3.1M480.6 387.6h1.0M485.8 387.6h4.2M493.1 387.6h1.0M497.2 387.6h3.1M505.5 387.6h1.0M507.6 387.6h1.0M510.7 387.6h4.2M517.0 387.6h6.2M524.3 387.6h1.0M528.4 387.6h1.0M535.7 387.6h1.0M537.8 387.6h2.1M544.0 387.6h2.1M549.2 387.6h1.0M553.4 387.6h2.1M559.6 387.6h1.0M563.8 387.6h1.0M568.0 387.6h1.0M571.1 387.6h2.1M574.2 387.6h2.1M577.3 387.6h1.0M579.4 387.6h1.0M583.6 387.6h1.0M588.8 387.6h1.0M592.9 387.6h1.0M595.0 387.6h3.1M599.2 387.6h1.0M601.3 387.6h1.0" stroke="#ecdc30" stroke-width="6.74" fill="none"/>
<path d="M297.5 387.6h1.0M315.2 387.6h1.0M321.4 387.6h1.0M341.2 387.6h1.0M350.5 387.6h1.0M354.7 387.6h1.0M377.6 387.6h1.0M382.8 387.6h1.0M394.2 387.6h1.0M400.5 387.6h1.0M407.8 387.6h1.0M415.0 387.6h2.1M435.8 387.6h1.0M439.0 387.6h1.0M448.3 387.6h1.0M456.7 387.6h1.0M467.1 387.6h1.0M482.7 387.6h2.1M501.4 387.6h1.0M504.5 387.6h1.0M530.5 387.6h1.0M534.7 387.6h1.0M540.9 387.6h1.0M555.5 387.6h2.1M561.7 387.6h2.1M585.7 387.6h1.0M598.1 387.6h1.0" stroke="#b9b04a" stroke-width="6.74" fill="none"/>
<path d="M296.4 387.6h1.0M314.1 387.6h1.0M323.5 387.6h2.1M348.5 387.6h1.0M355.7 387.6h1.0M362.0 387.6h1.0M374.5 387.6h1.0M389.0 387.6h1.0M391.1 387.6h1.0M402.6 387.6h1.0M427.5 387.6h1.0M430.6 387.6h1.0M436.9 387.6h1.0M442.1 387.6h1.0M444.2 387.6h1.0M458.7 387.6h1.0M471.2 387.6h1.0M484.7 387.6h1.0M496.2 387.6h1.0M502.4 387.6h1.0M527.4 387.6h1.0M543.0 387.6h1.0M550.3 387.6h1.0M552.4 387.6h1.0M564.8 387.6h1.0M570.0 387.6h1.0M578.4 387.6h1.0M590.9 387.6h2.1M594.0 387.6h1.0" stroke="#5d6078" stroke-width="6.74" fill="none"/>
<path d="M296.4 394.2h1.0M306.8 394.2h1.0M312.0 394.2h1.0M316.2 394.2h3.1M321.4 394.2h1.0M325.6 394.2h1.0M329.7 394.2h1.0M332.9 394.2h1.0M343.3 394.2h2.1M349.5 394.2h1.0M352.6 394.2h2.1M355.7 394.2h3.1M359.9 394.2h1.0M363.0 394.2h2.1M376.5 394.2h3.1M380.7 394.2h4.2M386.9 394.2h2.1M393.2 394.2h5.2M401.5 394.2h2.1M405.7 394.2h2.1M413.0 394.2h1.0M415.0 394.2h1.0M418.2 394.2h1.0M420.2 394.2h1.0M423.4 394.2h1.0M425.4 394.2h1.0M430.6 394.2h1.0M433.8 394.2h1.0M437.9 394.2h1.0M440.0 394.2h1.0M442.1 394.2h1.0M444.2 394.2h1.0M451.4 394.2h1.0M453.5 394.2h3.1M459.8 394.2h1.0M465.0 394.2h3.1M470.2 394.2h1.0M472.3 394.2h1.0M474.3 394.2h1.0M476.4 394.2h1.0M479.5 394.2h2.1M483.7 394.2h1.0M486.8 394.2h1.0M488.9 394.2h2.1M494.1 394.2h1.0M497.2 394.2h3.1M503.5 394.2h1.0M507.6 394.2h2.1M510.7 394.2h1.0M513.9 394.2h2.1M517.0 394.2h1.0M519.1 394.2h1.0M522.2 394.2h1.0M524.3 394.2h1.0M527.4 394.2h3.1M531.6 394.2h1.0M534.7 394.2h1.0M539.9 394.2h1.0M548.2 394.2h2.1M556.5 394.2h1.0M561.7 394.2h1.0M563.8 394.2h1.0M568.0 394.2h1.0M574.2 394.2h3.1M578.4 394.2h1.0M580.5 394.2h1.0M586.7 394.2h3.1M591.9 394.2h1.0M596.1 394.2h2.1" stroke="#ecdc30" stroke-width="6.74" fill="none"/>
<path d="M308.9 394.2h1.0M327.7 394.2h1.0M331.8 394.2h1.0M365.1 394.2h1.0M370.3 394.2h1.0M398.4 394.2h1.0M409.8 394.2h1.0M419.2 394.2h1.0M421.3 394.2h2.1M436.9 394.2h1.0M448.3 394.2h1.0M456.7 394.2h1.0M460.8 394.2h1.0M462.9 394.2h1.0M477.5 394.2h1.0M487.9 394.2h1.0M493.1 394.2h1.0M500.3 394.2h1.0M511.8 394.2h1.0M516.0 394.2h1.0M526.4 394.2h1.0M530.5 394.2h1.0M544.0 394.2h1.0M554.4 394.2h1.0M564.8 394.2h1.0M566.9 394.2h1.0M579.4 394.2h1.0M585.7 394.2h1.0M598.1 394.2h1.0" stroke="#b9b04a" stroke-width="6.74" fill="none"/>
<path d="M297.5 394.2h1.0M301.6 394.2h3.1M323.5 394.2h1.0M358.9 394.2h1.0M362.0 394.2h1.0M384.9 394.2h1.0M389.0 394.2h1.0M404.6 394.2h1.0M429.6 394.2h1.0M443.1 394.2h1.0M446.2 394.2h1.0M457.7 394.2h1.0M475.4 394.2h1.0M482.7 394.2h1.0M502.4 394.2h1.0M504.5 394.2h1.0M509.7 394.2h1.0M535.7 394.2h1.0M545.1 394.2h2.1M550.3 394.2h1.0M559.6 394.2h1.0M570.0 394.2h1.0M577.3 394.2h1.0M605.4 394.2h1.0" stroke="#5d6078" stroke-width="6.74" fill="none"/>
<path d="M295.4 400.9h1.0M297.5 400.9h1.0M301.6 400.9h2.1M310.0 400.9h2.1M315.2 400.9h1.0M317.2 400.9h1.0M320.4 400.9h1.0M325.6 400.9h1.0M328.7 400.9h1.0M333.9 400.9h1.0M336.0 400.9h2.1M339.1 400.9h1.0M341.2 400.9h1.0M343.3 400.9h5.2M349.5 400.9h1.0M351.6 400.9h4.2M356.8 400.9h1.0M358.9 400.9h5.2M367.2 400.9h2.1M370.3 400.9h1.0M373.4 400.9h1.0M378.6 400.9h1.0M380.7 400.9h2.1M385.9 400.9h1.0M390.1 400.9h5.2M398.4 400.9h1.0M402.6 400.9h1.0M404.6 400.9h3.1M409.8 400.9h1.0M413.0 400.9h1.0M415.0 400.9h5.2M421.3 400.9h1.0M423.4 400.9h2.1M426.5 400.9h1.0M428.6 400.9h1.0M433.8 400.9h4.2M440.0 400.9h2.1M443.1 400.9h4.2M448.3 400.9h1.0M452.5 400.9h1.0M460.8 400.9h1.0M472.3 400.9h1.0M477.5 400.9h1.0M486.8 400.9h1.0M489.9 400.9h1.0M495.1 400.9h1.0M497.2 400.9h1.0M504.5 400.9h1.0M509.7 400.9h1.0M520.1 400.9h1.0M531.6 400.9h1.0M533.6 400.9h1.0M572.1 400.9h1.0M577.3 400.9h1.0M589.8 400.9h1.0M592.9 400.9h1.0M599.2 400.9h1.0M603.3 400.9h2.1M606.5 400.9h1.0" stroke="#ecdc30" stroke-width="6.74" fill="none"/>
<path d="M299.6 400.9h1.0M303.7 400.9h2.1M314.1 400.9h1.0M326.6 400.9h1.0M334.9 400.9h1.0M338.1 400.9h1.0M376.5 400.9h2.1M379.7 400.9h1.0M388.0 400.9h1.0M396.3 400.9h1.0M408.8 400.9h1.0M431.7 400.9h2.1M437.9 400.9h1.0M469.1 400.9h1.0M471.2 400.9h1.0M476.4 400.9h1.0M478.5 400.9h1.0M491.0 400.9h2.1M496.2 400.9h1.0M506.6 400.9h2.1M510.7 400.9h1.0M517.0 400.9h1.0M524.3 400.9h1.0M535.7 400.9h1.0M557.6 400.9h1.0M569.0 400.9h1.0M576.3 400.9h1.0M579.4 400.9h1.0M583.6 400.9h1.0M605.4 400.9h1.0" stroke="#b9b04a" stroke-width="6.74" fill="none"/>
<path d="M322.4 400.9h1.0M324.5 400.9h1.0M327.7 400.9h1.0M331.8 400.9h2.1M342.2 400.9h1.0M348.5 400.9h1.0M357.8 400.9h1.0M371.3 400.9h2.1M401.5 400.9h1.0M407.8 400.9h1.0M410.9 400.9h2.1M414.0 400.9h1.0M429.6 400.9h2.1M454.6 400.9h1.0M457.7 400.9h1.0M473.3 400.9h1.0M503.5 400.9h1.0M518.0 400.9h1.0M522.2 400.9h1.0M537.8 400.9h2.1M550.3 400.9h1.0M574.2 400.9h1.0M578.4 400.9h1.0M600.2 400.9h1.0" stroke="#5d6078" stroke-width="6.74" fill="none"/>
<path d="M297.5 407.5h7.3M305.8 407.5h3.1M310.0 407.5h11.4M322.4 407.5h7.3M330.8 407.5h1.0M333.9 407.5h1.0M336.0 407.5h1.0M341.2 407.5h6.2M350.5 407.5h3.1M355.7 407.5h2.1M358.9 407.5h1.0M360.9 407.5h4.2M366.1 407.5h12.5M379.7 407.5h3.1M383.8 407.5h3.1M388.0 407.5h1.0M391.1 407.5h7.3M400.5 407.5h10.4M411.9 407.5h2.1M415.0 407.5h10.4M426.5 407.5h2.1M429.6 407.5h10.4M441.0 407.5h3.1M445.2 407.5h1.0M447.3 407.5h2.1" stroke="#ecdc30" stroke-width="6.74" fill="none"/>
<path d="M295.4 407.5h1.0M304.8 407.5h1.0M321.4 407.5h1.0M353.7 407.5h1.0M382.8 407.5h1.0M390.1 407.5h1.0M410.9 407.5h1.0M440.0 407.5h1.0" stroke="#b9b04a" stroke-width="6.74" fill="none"/>
<path d="M296.4 407.5h1.0M334.9 407.5h1.0M337.0 407.5h1.0M340.1 407.5h1.0M354.7 407.5h1.0M357.8 407.5h1.0M359.9 407.5h1.0M378.6 407.5h1.0M389.0 407.5h1.0M414.0 407.5h1.0M473.3 407.5h1.0M595.0 407.5h1.0" stroke="#5d6078" stroke-width="6.74" fill="none"/>
<path d="M295.4 414.2h3.1M301.6 414.2h1.0M303.7 414.2h2.1M308.9 414.2h2.1M312.0 414.2h2.1M316.2 414.2h1.0M318.3 414.2h4.2M324.5 414.2h2.1M328.7 414.2h3.1M334.9 414.2h3.1M340.1 414.2h10.4M353.7 414.2h3.1M357.8 414.2h2.1M360.9 414.2h3.1M368.2 414.2h2.1M371.3 414.2h1.0M374.5 414.2h1.0M376.5 414.2h10.4M388.0 414.2h4.2M398.4 414.2h1.0M401.5 414.2h1.0M403.6 414.2h3.1M408.8 414.2h1.0M410.9 414.2h1.0M413.0 414.2h1.0M417.1 414.2h2.1M421.3 414.2h1.0M423.4 414.2h5.2M429.6 414.2h2.1M432.7 414.2h1.0M434.8 414.2h2.1M437.9 414.2h2.1M441.0 414.2h2.1M444.2 414.2h5.2M452.5 414.2h1.0M457.7 414.2h1.0M461.9 414.2h1.0M470.2 414.2h1.0M473.3 414.2h1.0M477.5 414.2h1.0M488.9 414.2h1.0M492.0 414.2h1.0M494.1 414.2h1.0M499.3 414.2h1.0M504.5 414.2h1.0M514.9 414.2h1.0M517.0 414.2h2.1M524.3 414.2h2.1M533.6 414.2h1.0M536.8 414.2h1.0M540.9 414.2h1.0M558.6 414.2h1.0M561.7 414.2h1.0M563.8 414.2h1.0M569.0 414.2h3.1M577.3 414.2h1.0M587.7 414.2h1.0M594.0 414.2h1.0M596.1 414.2h1.0M606.5 414.2h1.0" stroke="#ecdc30" stroke-width="6.74" fill="none"/>
<path d="M302.7 414.2h1.0M323.5 414.2h1.0M331.8 414.2h1.0M333.9 414.2h1.0M351.6 414.2h2.1M356.8 414.2h1.0M392.2 414.2h3.1M396.3 414.2h2.1M402.6 414.2h1.0M407.8 414.2h1.0M415.0 414.2h2.1M422.3 414.2h1.0M428.6 414.2h1.0M433.8 414.2h1.0M450.4 414.2h2.1M453.5 414.2h1.0M466.0 414.2h1.0M482.7 414.2h1.0M509.7 414.2h1.0M519.1 414.2h1.0M526.4 414.2h1.0M546.1 414.2h1.0M552.4 414.2h1.0M556.5 414.2h1.0M574.2 414.2h1.0M597.1 414.2h2.1" stroke="#b9b04a" stroke-width="6.74" fill="none"/>
<path d="M307.9 414.2h1.0M317.2 414.2h1.0M326.6 414.2h1.0M339.1 414.2h1.0M386.9 414.2h1.0M395.3 414.2h1.0M400.5 414.2h1.0M419.2 414.2h1.0M443.1 414.2h1.0M454.6 414.2h1.0M456.7 414.2h1.0M469.1 414.2h1.0M478.5 414.2h1.0M506.6 414.2h1.0M508.7 414.2h1.0M522.2 414.2h1.0M534.7 414.2h1.0M537.8 414.2h1.0M573.2 414.2h1.0M575.2 414.2h1.0M581.5 414.2h1.0" stroke="#5d6078" stroke-width="6.74" fill="none"/>
<path d="M297.5 420.8h1.0M302.7 420.8h1.0M305.8 420.8h3.1M312.0 420.8h1.0M315.2 420.8h2.1M320.4 420.8h4.2M331.8 420.8h1.0M334.9 420.8h1.0M344.3 420.8h1.0M347.4 420.8h1.0M353.7 420.8h2.1M356.8 420.8h3.1M362.0 420.8h1.0M370.3 420.8h2.1M373.4 420.8h6.2M381.7 420.8h1.0M383.8 420.8h6.2M393.2 420.8h1.0M395.3 420.8h1.0M401.5 420.8h1.0M407.8 420.8h1.0M409.8 420.8h2.1M414.0 420.8h3.1M419.2 420.8h4.2M424.4 420.8h2.1M427.5 420.8h2.1M430.6 420.8h1.0M434.8 420.8h1.0M439.0 420.8h1.0M441.0 420.8h3.1M445.2 420.8h1.0M448.3 420.8h1.0M451.4 420.8h2.1M454.6 420.8h2.1M459.8 420.8h1.0M465.0 420.8h1.0M475.4 420.8h2.1M480.6 420.8h1.0M487.9 420.8h2.1M496.2 420.8h1.0M498.3 420.8h1.0M508.7 420.8h1.0M510.7 420.8h2.1M522.2 420.8h1.0M529.5 420.8h2.1M539.9 420.8h1.0M544.0 420.8h1.0M548.2 420.8h1.0M555.5 420.8h1.0M558.6 420.8h1.0M561.7 420.8h1.0M587.7 420.8h2.1M597.1 420.8h1.0M600.2 420.8h1.0" stroke="#ecdc30" stroke-width="6.74" fill="none"/>
<path d="M301.6 420.8h1.0M329.7 420.8h1.0M333.9 420.8h1.0M345.3 420.8h2.1M355.7 420.8h1.0M364.1 420.8h1.0M380.7 420.8h1.0M382.8 420.8h1.0M404.6 420.8h1.0M411.9 420.8h1.0M431.7 420.8h1.0M444.2 420.8h1.0M466.0 420.8h1.0M502.4 420.8h2.1M514.9 420.8h1.0M519.1 420.8h1.0M547.2 420.8h1.0M565.9 420.8h3.1M574.2 420.8h1.0M592.9 420.8h1.0M603.3 420.8h1.0" stroke="#b9b04a" stroke-width="6.74" fill="none"/>
<path d="M332.9 420.8h1.0M336.0 420.8h2.1M341.2 420.8h1.0M348.5 420.8h2.1M366.1 420.8h1.0M372.4 420.8h1.0M391.1 420.8h1.0M397.4 420.8h2.1M402.6 420.8h1.0M405.7 420.8h1.0M440.0 420.8h1.0M447.3 420.8h1.0M453.5 420.8h1.0M462.9 420.8h1.0M479.5 420.8h1.0M484.7 420.8h1.0M517.0 420.8h1.0M525.3 420.8h1.0M534.7 420.8h1.0M542.0 420.8h1.0M556.5 420.8h1.0M572.1 420.8h1.0M589.8 420.8h1.0M591.9 420.8h1.0M598.1 420.8h1.0" stroke="#5d6078" stroke-width="6.74" fill="none"/>
<path d="M295.4 427.5h1.0M297.5 427.5h2.1M307.9 427.5h1.0M311.0 427.5h2.1M319.3 427.5h1.0M321.4 427.5h2.1M327.7 427.5h1.0M332.9 427.5h1.0M334.9 427.5h1.0M337.0 427.5h2.1M340.1 427.5h1.0M349.5 427.5h1.0M353.7 427.5h2.1M357.8 427.5h1.0M362.0 427.5h1.0M365.1 427.5h1.0M368.2 427.5h2.1M371.3 427.5h7.3M379.7 427.5h1.0M381.7 427.5h4.2M386.9 427.5h2.1M390.1 427.5h1.0M394.2 427.5h3.1M401.5 427.5h2.1M406.7 427.5h3.1M410.9 427.5h1.0M415.0 427.5h1.0M418.2 427.5h1.0M420.2 427.5h2.1M424.4 427.5h2.1M429.6 427.5h2.1M432.7 427.5h1.0M435.8 427.5h1.0M439.0 427.5h1.0M441.0 427.5h1.0M443.1 427.5h2.1M448.3 427.5h1.0M455.6 427.5h2.1M459.8 427.5h1.0M462.9 427.5h1.0M465.0 427.5h1.0M471.2 427.5h1.0M475.4 427.5h1.0M479.5 427.5h2.1M486.8 427.5h1.0M496.2 427.5h1.0M498.3 427.5h1.0M510.7 427.5h2.1M521.2 427.5h1.0M528.4 427.5h1.0M530.5 427.5h1.0M536.8 427.5h1.0M544.0 427.5h2.1M547.2 427.5h1.0M549.2 427.5h2.1M559.6 427.5h1.0M574.2 427.5h1.0M576.3 427.5h1.0M579.4 427.5h2.1M588.8 427.5h1.0M598.1 427.5h3.1M604.4 427.5h1.0" stroke="#ecdc30" stroke-width="6.74" fill="none"/>
<path d="M351.6 427.5h1.0M363.0 427.5h2.1M367.2 427.5h1.0M392.2 427.5h1.0M398.4 427.5h1.0M404.6 427.5h1.0M414.0 427.5h1.0M423.4 427.5h1.0M426.5 427.5h1.0M436.9 427.5h1.0M446.2 427.5h1.0M454.6 427.5h1.0M476.4 427.5h1.0M488.9 427.5h1.0M492.0 427.5h1.0M497.2 427.5h1.0M513.9 427.5h1.0M519.1 427.5h1.0M532.6 427.5h1.0M554.4 427.5h1.0M603.3 427.5h1.0" stroke="#b9b04a" stroke-width="6.74" fill="none"/>
<path d="M301.6 427.5h1.0M347.4 427.5h1.0M358.9 427.5h1.0M360.9 427.5h1.0M378.6 427.5h1.0M403.6 427.5h1.0M422.3 427.5h1.0M437.9 427.5h1.0M442.1 427.5h1.0M466.0 427.5h1.0M472.3 427.5h1.0M491.0 427.5h1.0M499.3 427.5h1.0M516.0 427.5h1.0M539.9 427.5h1.0M546.1 427.5h1.0M548.2 427.5h1.0M560.7 427.5h1.0M570.0 427.5h1.0M590.9 427.5h1.0M596.1 427.5h1.0M601.3 427.5h1.0" stroke="#5d6078" stroke-width="6.74" fill="none"/>
<path d="M297.5 434.1h1.0M301.6 434.1h2.1M305.8 434.1h1.0M307.9 434.1h2.1M312.0 434.1h1.0M317.2 434.1h1.0M322.4 434.1h1.0M327.7 434.1h1.0M332.9 434.1h1.0M334.9 434.1h1.0M343.3 434.1h2.1M353.7 434.1h1.0M357.8 434.1h1.0M359.9 434.1h1.0M363.0 434.1h5.2M372.4 434.1h2.1M376.5 434.1h3.1M381.7 434.1h1.0M383.8 434.1h6.2M392.2 434.1h1.0M395.3 434.1h3.1M401.5 434.1h1.0M406.7 434.1h2.1M411.9 434.1h1.0M414.0 434.1h2.1M418.2 434.1h4.2M425.4 434.1h1.0M427.5 434.1h3.1M434.8 434.1h3.1M440.0 434.1h1.0M443.1 434.1h2.1M448.3 434.1h1.0M450.4 434.1h1.0M453.5 434.1h3.1M459.8 434.1h1.0M461.9 434.1h1.0M465.0 434.1h2.1M470.2 434.1h1.0M473.3 434.1h1.0M475.4 434.1h1.0M479.5 434.1h1.0M487.9 434.1h2.1M496.2 434.1h1.0M499.3 434.1h1.0M502.4 434.1h1.0M508.7 434.1h1.0M517.0 434.1h1.0M519.1 434.1h1.0M522.2 434.1h1.0M524.3 434.1h2.1M528.4 434.1h3.1M535.7 434.1h1.0M539.9 434.1h1.0M543.0 434.1h1.0M546.1 434.1h1.0M548.2 434.1h4.2M553.4 434.1h1.0M559.6 434.1h1.0M563.8 434.1h1.0M568.0 434.1h1.0M571.1 434.1h1.0M579.4 434.1h1.0M587.7 434.1h2.1M590.9 434.1h1.0M594.0 434.1h1.0M596.1 434.1h1.0M599.2 434.1h1.0M601.3 434.1h1.0" stroke="#ecdc30" stroke-width="6.74" fill="none"/>
<path d="M303.7 434.1h1.0M313.1 434.1h1.0M330.8 434.1h1.0M347.4 434.1h1.0M358.9 434.1h1.0M369.3 434.1h1.0M371.3 434.1h1.0M409.8 434.1h1.0M417.1 434.1h1.0M430.6 434.1h1.0M437.9 434.1h1.0M476.4 434.1h1.0M480.6 434.1h1.0M485.8 434.1h1.0M497.2 434.1h1.0M537.8 434.1h1.0M544.0 434.1h2.1M561.7 434.1h1.0M565.9 434.1h1.0M585.7 434.1h2.1" stroke="#b9b04a" stroke-width="6.74" fill="none"/>
<path d="M299.6 434.1h1.0M306.8 434.1h1.0M310.0 434.1h1.0M319.3 434.1h1.0M329.7 434.1h1.0M351.6 434.1h1.0M356.8 434.1h1.0M360.9 434.1h1.0M413.0 434.1h1.0M422.3 434.1h3.1M432.7 434.1h1.0M442.1 434.1h1.0M446.2 434.1h1.0M472.3 434.1h1.0M486.8 434.1h1.0M536.8 434.1h1.0M554.4 434.1h1.0M574.2 434.1h1.0M576.3 434.1h1.0M578.4 434.1h1.0M589.8 434.1h1.0M591.9 434.1h1.0M606.5 434.1h1.0" stroke="#5d6078" stroke-width="6.74" fill="none"/>
<path d="M297.5 440.7h1.0M301.6 440.7h1.0M312.0 440.7h1.0M315.2 440.7h5.2M321.4 440.7h2.1M331.8 440.7h2.1M338.1 440.7h1.0M341.2 440.7h2.1M344.3 440.7h2.1M347.4 440.7h2.1M352.6 440.7h4.2M359.9 440.7h1.0M362.0 440.7h3.1M366.1 440.7h1.0M370.3 440.7h1.0M373.4 440.7h2.1M378.6 440.7h2.1M381.7 440.7h5.2M388.0 440.7h1.0M394.2 440.7h2.1M398.4 440.7h1.0M400.5 440.7h3.1M405.7 440.7h1.0M410.9 440.7h2.1M415.0 440.7h2.1M418.2 440.7h2.1M423.4 440.7h1.0M425.4 440.7h1.0M427.5 440.7h5.2M436.9 440.7h1.0M439.0 440.7h1.0M443.1 440.7h2.1M448.3 440.7h2.1M453.5 440.7h1.0M459.8 440.7h2.1M465.0 440.7h3.1M479.5 440.7h1.0M481.6 440.7h1.0M484.7 440.7h1.0M487.9 440.7h2.1M493.1 440.7h1.0M497.2 440.7h1.0M499.3 440.7h2.1M511.8 440.7h2.1M519.1 440.7h1.0M522.2 440.7h1.0M524.3 440.7h2.1M530.5 440.7h1.0M536.8 440.7h1.0M538.8 440.7h1.0M544.0 440.7h1.0M547.2 440.7h1.0M554.4 440.7h1.0M556.5 440.7h1.0M558.6 440.7h1.0M566.9 440.7h1.0M572.1 440.7h1.0M575.2 440.7h1.0M577.3 440.7h1.0M579.4 440.7h1.0M583.6 440.7h1.0M588.8 440.7h1.0M590.9 440.7h2.1M596.1 440.7h2.1M599.2 440.7h1.0M602.3 440.7h1.0" stroke="#ecdc30" stroke-width="6.74" fill="none"/>
<path d="M300.6 440.7h1.0M305.8 440.7h1.0M320.4 440.7h1.0M325.6 440.7h1.0M327.7 440.7h1.0M349.5 440.7h1.0M365.1 440.7h1.0M372.4 440.7h1.0M376.5 440.7h2.1M391.1 440.7h1.0M406.7 440.7h1.0M420.2 440.7h1.0M422.3 440.7h1.0M442.1 440.7h1.0M455.6 440.7h1.0M462.9 440.7h1.0M474.3 440.7h3.1M502.4 440.7h1.0M507.6 440.7h1.0M513.9 440.7h1.0M546.1 440.7h1.0M549.2 440.7h1.0M561.7 440.7h1.0M568.0 440.7h1.0M573.2 440.7h1.0M576.3 440.7h1.0M585.7 440.7h1.0" stroke="#b9b04a" stroke-width="6.74" fill="none"/>
<path d="M302.7 440.7h1.0M334.9 440.7h2.1M340.1 440.7h1.0M343.3 440.7h1.0M346.4 440.7h1.0M358.9 440.7h1.0M368.2 440.7h2.1M375.5 440.7h1.0M380.7 440.7h1.0M386.9 440.7h1.0M390.1 440.7h1.0M407.8 440.7h1.0M409.8 440.7h1.0M417.1 440.7h1.0M426.5 440.7h1.0M433.8 440.7h1.0M440.0 440.7h1.0M477.5 440.7h1.0M483.7 440.7h1.0M486.8 440.7h1.0M496.2 440.7h1.0M534.7 440.7h2.1M537.8 440.7h1.0M539.9 440.7h1.0M557.6 440.7h1.0M559.6 440.7h1.0M562.8 440.7h2.1M570.0 440.7h2.1M603.3 440.7h1.0" stroke="#5d6078" stroke-width="6.74" fill="none"/>
<path d="M296.4 447.4h1.0M301.6 447.4h2.1M304.8 447.4h5.2M312.0 447.4h1.0M315.2 447.4h1.0M318.3 447.4h1.0M321.4 447.4h2.1M324.5 447.4h2.1M329.7 447.4h1.0M331.8 447.4h2.1M337.0 447.4h2.1M340.1 447.4h4.2M345.3 447.4h1.0M354.7 447.4h1.0M357.8 447.4h3.1M369.3 447.4h1.0M371.3 447.4h4.2M378.6 447.4h2.1M381.7 447.4h1.0M383.8 447.4h1.0M388.0 447.4h2.1M391.1 447.4h1.0M394.2 447.4h5.2M401.5 447.4h2.1M406.7 447.4h1.0M409.8 447.4h1.0M414.0 447.4h1.0M419.2 447.4h2.1M423.4 447.4h3.1M428.6 447.4h1.0M430.6 447.4h1.0M435.8 447.4h4.2M441.0 447.4h1.0M443.1 447.4h3.1M451.4 447.4h1.0M454.6 447.4h2.1M462.9 447.4h1.0M465.0 447.4h1.0M472.3 447.4h1.0M475.4 447.4h2.1M479.5 447.4h2.1M485.8 447.4h1.0M491.0 447.4h1.0M493.1 447.4h1.0M498.3 447.4h2.1M507.6 447.4h1.0M510.7 447.4h1.0M519.1 447.4h1.0M522.2 447.4h1.0M524.3 447.4h1.0M529.5 447.4h1.0M532.6 447.4h1.0M537.8 447.4h1.0M544.0 447.4h3.1M554.4 447.4h1.0M558.6 447.4h2.1M561.7 447.4h1.0M563.8 447.4h1.0M576.3 447.4h1.0M582.5 447.4h1.0M590.9 447.4h1.0M597.1 447.4h1.0M599.2 447.4h1.0" stroke="#ecdc30" stroke-width="6.74" fill="none"/>
<path d="M300.6 447.4h1.0M310.0 447.4h1.0M314.1 447.4h1.0M334.9 447.4h1.0M351.6 447.4h1.0M353.7 447.4h1.0M370.3 447.4h1.0M384.9 447.4h1.0M386.9 447.4h1.0M415.0 447.4h1.0M417.1 447.4h1.0M429.6 447.4h1.0M434.8 447.4h1.0M446.2 447.4h1.0M449.4 447.4h1.0M487.9 447.4h1.0M497.2 447.4h1.0M500.3 447.4h1.0M508.7 447.4h1.0M511.8 447.4h1.0M514.9 447.4h1.0M528.4 447.4h1.0M539.9 447.4h1.0M552.4 447.4h1.0M557.6 447.4h1.0M565.9 447.4h1.0" stroke="#b9b04a" stroke-width="6.74" fill="none"/>
<path d="M313.1 447.4h1.0M316.2 447.4h1.0M319.3 447.4h1.0M327.7 447.4h1.0M346.4 447.4h1.0M348.5 447.4h2.1M360.9 447.4h1.0M375.5 447.4h2.1M382.8 447.4h1.0M385.9 447.4h1.0M408.8 447.4h1.0M410.9 447.4h1.0M416.1 447.4h1.0M447.3 447.4h1.0M456.7 447.4h1.0M459.8 447.4h1.0M468.1 447.4h1.0M471.2 447.4h1.0M494.1 447.4h1.0M496.2 447.4h1.0M501.4 447.4h1.0M512.8 447.4h1.0M520.1 447.4h2.1M531.6 447.4h1.0M555.5 447.4h1.0M562.8 447.4h1.0M575.2 447.4h1.0M577.3 447.4h3.1M588.8 447.4h1.0M601.3 447.4h2.1" stroke="#5d6078" stroke-width="6.74" fill="none"/>
<path d="M296.4 454.0h1.0M307.9 454.0h3.1M312.0 454.0h1.0M316.2 454.0h1.0M318.3 454.0h1.0M326.6 454.0h2.1M332.9 454.0h1.0M334.9 454.0h2.1M339.1 454.0h1.0M341.2 454.0h1.0M343.3 454.0h1.0M345.3 454.0h3.1M354.7 454.0h2.1M357.8 454.0h1.0M359.9 454.0h2.1M363.0 454.0h2.1M366.1 454.0h1.0M368.2 454.0h6.2M375.5 454.0h4.2M381.7 454.0h1.0M383.8 454.0h1.0M386.9 454.0h2.1M390.1 454.0h1.0M400.5 454.0h2.1M403.6 454.0h1.0M406.7 454.0h1.0M409.8 454.0h1.0M415.0 454.0h2.1M420.2 454.0h1.0M423.4 454.0h3.1M427.5 454.0h2.1M430.6 454.0h2.1M436.9 454.0h1.0M439.0 454.0h1.0M441.0 454.0h5.2M447.3 454.0h3.1M451.4 454.0h1.0M453.5 454.0h1.0M455.6 454.0h1.0M460.8 454.0h1.0M465.0 454.0h2.1M482.7 454.0h1.0M486.8 454.0h1.0M488.9 454.0h1.0M493.1 454.0h1.0M498.3 454.0h2.1M503.5 454.0h1.0M505.5 454.0h1.0M507.6 454.0h1.0M522.2 454.0h1.0M534.7 454.0h1.0M544.0 454.0h2.1M548.2 454.0h1.0M557.6 454.0h1.0M559.6 454.0h1.0M561.7 454.0h1.0M575.2 454.0h1.0M584.6 454.0h3.1M588.8 454.0h1.0M590.9 454.0h1.0M597.1 454.0h1.0M599.2 454.0h3.1M606.5 454.0h1.0" stroke="#ecdc30" stroke-width="6.74" fill="none"/>
<path d="M298.5 454.0h1.0M300.6 454.0h1.0M329.7 454.0h1.0M344.3 454.0h1.0M362.0 454.0h1.0M365.1 454.0h1.0M384.9 454.0h1.0M395.3 454.0h1.0M398.4 454.0h1.0M404.6 454.0h1.0M408.8 454.0h1.0M411.9 454.0h1.0M421.3 454.0h2.1M479.5 454.0h1.0M500.3 454.0h1.0M510.7 454.0h1.0M513.9 454.0h1.0M521.2 454.0h1.0M524.3 454.0h1.0M529.5 454.0h1.0M550.3 454.0h1.0M563.8 454.0h1.0M571.1 454.0h1.0M574.2 454.0h1.0M578.4 454.0h1.0M591.9 454.0h1.0M605.4 454.0h1.0" stroke="#b9b04a" stroke-width="6.74" fill="none"/>
<path d="M302.7 454.0h1.0M319.3 454.0h1.0M323.5 454.0h1.0M338.1 454.0h1.0M353.7 454.0h1.0M356.8 454.0h1.0M358.9 454.0h1.0M367.2 454.0h1.0M382.8 454.0h1.0M391.1 454.0h1.0M407.8 454.0h1.0M426.5 454.0h1.0M437.9 454.0h1.0M456.7 454.0h1.0M467.1 454.0h1.0M470.2 454.0h2.1M491.0 454.0h1.0M496.2 454.0h1.0M504.5 454.0h1.0M509.7 454.0h1.0M519.1 454.0h1.0M539.9 454.0h1.0M553.4 454.0h2.1M562.8 454.0h1.0M564.8 454.0h1.0M573.2 454.0h1.0M587.7 454.0h1.0M592.9 454.0h2.1M602.3 454.0h1.0" stroke="#5d6078" stroke-width="6.74" fill="none"/>
<path d="M297.5 460.7h1.0M302.7 460.7h1.0M308.9 460.7h1.0M312.0 460.7h1.0M320.4 460.7h3.1M325.6 460.7h3.1M332.9 460.7h1.0M345.3 460.7h1.0M348.5 460.7h1.0M353.7 460.7h1.0M363.0 460.7h1.0M365.1 460.7h3.1M370.3 460.7h2.1M380.7 460.7h3.1M384.9 460.7h1.0M386.9 460.7h3.1M392.2 460.7h1.0M395.3 460.7h1.0M398.4 460.7h1.0M400.5 460.7h3.1M404.6 460.7h1.0M407.8 460.7h1.0M409.8 460.7h1.0M411.9 460.7h1.0M414.0 460.7h1.0M416.1 460.7h5.2M423.4 460.7h1.0M426.5 460.7h5.2M436.9 460.7h1.0M439.0 460.7h2.1M442.1 460.7h3.1M446.2 460.7h1.0M448.3 460.7h2.1M453.5 460.7h1.0M455.6 460.7h1.0M459.8 460.7h1.0M462.9 460.7h1.0M465.0 460.7h1.0M467.1 460.7h1.0M470.2 460.7h1.0M472.3 460.7h1.0M475.4 460.7h2.1M481.6 460.7h1.0M483.7 460.7h2.1M486.8 460.7h1.0M488.9 460.7h1.0M497.2 460.7h2.1M501.4 460.7h1.0M507.6 460.7h1.0M511.8 460.7h1.0M521.2 460.7h2.1M532.6 460.7h1.0M544.0 460.7h2.1M552.4 460.7h1.0M554.4 460.7h2.1M557.6 460.7h1.0M566.9 460.7h1.0M573.2 460.7h1.0M588.8 460.7h3.1M596.1 460.7h2.1M599.2 460.7h1.0M602.3 460.7h2.1" stroke="#ecdc30" stroke-width="6.74" fill="none"/>
<path d="M299.6 460.7h1.0M301.6 460.7h1.0M307.9 460.7h1.0M317.2 460.7h1.0M339.1 460.7h3.1M346.4 460.7h1.0M349.5 460.7h1.0M355.7 460.7h1.0M377.6 460.7h2.1M383.8 460.7h1.0M390.1 460.7h1.0M410.9 460.7h1.0M487.9 460.7h1.0M496.2 460.7h1.0M508.7 460.7h2.1M523.2 460.7h1.0M539.9 460.7h1.0M549.2 460.7h1.0M561.7 460.7h1.0M563.8 460.7h1.0M574.2 460.7h2.1M587.7 460.7h1.0M591.9 460.7h2.1M598.1 460.7h1.0" stroke="#b9b04a" stroke-width="6.74" fill="none"/>
<path d="M295.4 460.7h1.0M300.6 460.7h1.0M305.8 460.7h2.1M310.0 460.7h2.1M313.1 460.7h2.1M318.3 460.7h1.0M333.9 460.7h1.0M338.1 460.7h1.0M351.6 460.7h1.0M354.7 460.7h1.0M362.0 460.7h1.0M374.5 460.7h1.0M406.7 460.7h1.0M421.3 460.7h2.1M425.4 460.7h1.0M431.7 460.7h1.0M433.8 460.7h2.1M441.0 460.7h1.0M471.2 460.7h1.0M479.5 460.7h1.0M504.5 460.7h1.0M510.7 460.7h1.0M517.0 460.7h1.0M529.5 460.7h1.0M535.7 460.7h1.0M546.1 460.7h1.0M551.3 460.7h1.0M560.7 460.7h1.0M562.8 460.7h1.0M570.0 460.7h1.0M604.4 460.7h1.0" stroke="#5d6078" stroke-width="6.74" fill="none"/>
<rect x="295.4" y="311.2" width="312.1" height="152.8" fill="none" stroke="#111" stroke-width="0.6"/>
<rect x="295.4" y="304.1" width="152.6" height="4.9" fill="#1f4ea8"/>
<rect x="448.0" y="304.1" width="159.5" height="4.9" fill="#ee2a24"/>
<g font-family="'Liberation Serif',serif" font-size="9.15" fill="#111" text-anchor="middle">
<text x="367" y="302.6">m6Acluster A</text><text x="525.8" y="302.6">m6Acluster B</text></g>
<g font-family="'Liberation Serif',serif" font-size="6.85" fill="#000">
<text x="609.2" y="316.9">YTHDF3</text>
<text x="609.2" y="323.6">KIAA1429</text>
<text x="609.2" y="330.2">CBLL1</text>
<text x="609.2" y="336.9">FTO</text>
<text x="609.2" y="343.5">YTHDC2</text>
<text x="609.2" y="350.1">ZC3H13</text>
<text x="609.2" y="356.8">EIF3A</text>
<text x="609.2" y="363.4">YTHDC1</text>
<text x="609.2" y="370.1">METTL14</text>
<text x="609.2" y="376.7">ALKBH3</text>
<text x="609.2" y="383.4">YTHDF2</text>
<text x="609.2" y="390.0">RBM15</text>
<text x="609.2" y="396.6">WTAP</text>
<text x="609.2" y="403.3">IGF2BP2</text>
<text x="609.2" y="409.9">IGF2BP1</text>
<text x="609.2" y="416.6">IGF2BP3</text>
<text x="609.2" y="423.2">ALKBH5</text>
<text x="609.2" y="429.9">ELAVL1</text>
<text x="609.2" y="436.5">YTHDF1</text>
<text x="609.2" y="443.1">RBM15B</text>
<text x="609.2" y="449.8">HNRNPC</text>
<text x="609.2" y="456.4">HNRNPA2B1</text>
<text x="609.2" y="463.1">METTL3</text>
</g>
<path d="M276.5 314.5H295.4M276.5 321.2H295.4M276.5 314.5V321.2M273.0 341.1H295.4M273.0 347.7H295.4M273.0 341.1V347.7M269.9 334.5H295.4M269.9 344.4H273.0M269.9 334.5V344.4M273.7 361.0H295.4M273.7 367.7H295.4M273.7 361.0V367.7M271.1 354.4H295.4M271.1 364.3H273.7M271.1 354.4V364.3M268.9 339.4H269.9M268.9 359.4H271.1M268.9 339.4V359.4M267.0 327.8H295.4M267.0 349.4H268.9M267.0 327.8V349.4M257.1 317.8H276.5M257.1 338.6H267.0M257.1 317.8V338.6M270.6 381.0H295.4M270.6 387.6H295.4M270.6 381.0V387.6M268.2 394.2H295.4M268.2 384.3H270.6M268.2 384.3V394.2M264.7 374.3H295.4M264.7 389.3H268.2M264.7 374.3V389.3M274.2 400.9H295.4M274.2 407.5H295.4M274.2 400.9V407.5M271.8 414.2H295.4M271.8 404.2H274.2M271.8 404.2V414.2M268.2 420.8H295.4M268.2 427.5H295.4M268.2 420.8V427.5M273.0 434.1H295.4M273.0 440.7H295.4M273.0 434.1V440.7M265.8 424.1H268.2M265.8 437.4H273.0M265.8 424.1V437.4M271.8 447.4H295.4M271.8 454.0H295.4M271.8 447.4V454.0M264.7 460.7H295.4M264.7 450.7H271.8M264.7 450.7V460.7M263.0 430.8H265.8M263.0 455.7H264.7M263.0 430.8V455.7M260.6 409.2H271.8M260.6 443.2H263.0M260.6 409.2V443.2M256.4 381.8H264.7M256.4 426.2H260.6M256.4 381.8V426.2M238.3 328.2H257.1M238.3 404.0H256.4M238.3 328.2V404.0" stroke="#1a1a1a" stroke-width="0.75" fill="none"/>
<defs><linearGradient id="dk" x1="0" x2="1"><stop offset="0" stop-color="#1b2a7c"/><stop offset="0.35" stop-color="#1f47a6"/><stop offset="1" stop-color="#1f47a6"/></linearGradient></defs>
<rect x="617.8" y="286.8" width="51.5" height="3.9" fill="url(#dk)"/>
<rect x="617.8" y="286.8" width="20.6" height="3.9" fill="#f2e21e"/>
<rect x="617.8" y="286.8" width="52" height="3.9" fill="none" stroke="#1b2a5c" stroke-width="0.6"/>
<g font-family="'Liberation Sans',sans-serif" font-size="5.3" fill="#222">
<text transform="translate(624.6,296.9) rotate(-90)" text-anchor="end">-2.00</text>
<text transform="translate(629.7,296.9) rotate(-90)" text-anchor="end">-1.50</text>
<text transform="translate(634.8,296.9) rotate(-90)" text-anchor="end">-1.00</text>
<text transform="translate(639.8,296.9) rotate(-90)" text-anchor="end">-0.50</text>
<text transform="translate(644.9,296.9) rotate(-90)" text-anchor="end">0.00</text>
<text transform="translate(650.0,296.9) rotate(-90)" text-anchor="end">0.50</text>
<text transform="translate(655.1,296.9) rotate(-90)" text-anchor="end">1.00</text>
<text transform="translate(660.2,296.9) rotate(-90)" text-anchor="end">1.50</text>
<text transform="translate(665.2,296.9) rotate(-90)" text-anchor="end">2.00</text>
</g>
<path d="M622.8 290.7V295.9M627.9 290.7V295.9M633.0 290.7V295.9M638.0 290.7V295.9M643.1 290.7V295.9M648.2 290.7V295.9M653.3 290.7V295.9M658.4 290.7V295.9M663.4 290.7V295.9" stroke="#222" stroke-width="0.6" fill="none"/></g>
<g id="panelE"><path d="M37.8 568.2H40.2V569.3H42.6V570.4H44.6V571.3H46.7V572.3H48.8V573.2H50.9V573.9H53.0V574.7H55.1V575.4H57.2V576.1H59.3V576.9H61.4V577.6H63.3V578.1H65.3V578.5H67.3V579.0H69.2V579.5H71.2V579.8H73.2V580.1H75.1V580.4H77.1V580.7H79.0V581.2H80.8V581.7H82.7V582.2H84.6V582.7H86.5V583.2H88.6V583.8H90.7V584.3H92.8V584.8H94.9V585.7H97.0V586.5H99.1V587.3H100.8V587.6H102.6V587.8H104.4V588.0H106.2V588.2H108.0V588.4H109.8V588.7H111.6V588.9H113.5V589.3H115.4V589.7H117.3V590.0H119.1V590.4H121.0V590.8H122.8V591.0H124.6V591.1H126.4V591.3H128.2V591.5H130.0V591.7H131.8V591.9H133.6V592.0H135.7V592.2H137.8V592.5H139.9V592.7H141.9V593.7H144.0V594.8H146.1V595.8H148.0V596.1H149.9V596.4H151.8V596.7H153.7V597.1H155.5V597.4H157.4V597.9H159.3V598.4H161.2V598.9H163.1V599.4H165.0V599.9H167.1V601.5H169.2V603.0H171.2V604.6H173.1V605.0H175.0V605.5H176.9V605.9H178.8V606.3H180.7V606.8H182.5V607.4H184.4V608.0H186.3V608.7H188.2V609.3H190.1V609.9H191.9V610.0H193.7V610.0H195.5V610.1H197.2V610.1H199.0V610.2H200.8V610.2H202.6V610.2H205.8V613.1H207.5V613.0H209.2V613.0H210.9V613.0H212.7V612.9H214.4V612.9H216.1V612.9H217.9V612.8H219.6V612.8H221.3V612.8H223.0V612.8" stroke="#ee1c25" stroke-width="2" fill="none" stroke-linejoin="round"/>
<path d="M55.1 573.4v2.2M57.3 574.2v2.2M59.8 575.0v2.2M61.4 575.6v2.2M64.3 576.3v2.2M66.7 576.9v2.2M69.2 577.5v2.2M70.2 577.6v2.2M72.1 577.9v2.2M75.0 578.4v2.2M77.1 578.7v2.2M79.9 579.5v2.2M81.0 579.8v2.2M82.9 580.3v2.2M84.3 580.7v2.2M86.4 581.2v2.2M86.5 581.2v2.2M87.4 581.5v2.2M88.8 581.8v2.2M90.3 582.2v2.2M92.8 582.8v2.2M95.3 583.8v2.2M96.5 584.3v2.2M99.1 585.3v2.2M100.2 585.5v2.2M102.4 585.8v2.2M103.6 585.9v2.2M104.5 586.0v2.2M107.2 586.4v2.2M108.6 586.5v2.2M109.9 586.7v2.2M111.6 586.9v2.2M114.3 587.4v2.2M115.8 587.7v2.2M118.8 588.3v2.2M120.8 588.7v2.2M121.0 588.8v2.2M122.4 588.9v2.2M125.2 589.2v2.2M127.6 589.4v2.2M130.5 589.7v2.2M133.3 590.0v2.2M133.6 590.0v2.2M135.2 590.2v2.2M136.5 590.3v2.2M137.7 590.4v2.2M138.7 590.6v2.2M139.9 590.7v2.2M142.0 591.7v2.2M142.9 592.2v2.2M145.3 593.4v2.2M146.1 593.8v2.2M147.7 594.1v2.2M150.3 594.5v2.2M152.2 594.8v2.2M153.8 595.1v2.2M155.5 595.4v2.2M157.9 596.0v2.2M158.9 596.3v2.2M161.9 597.1v2.2M162.8 597.3v2.2M165.0 597.9v2.2M167.6 599.9v2.2M168.6 600.6v2.2M171.1 602.5v2.2M171.2 602.6v2.2M173.4 603.1v2.2M174.3 603.3v2.2M175.3 603.5v2.2M176.6 603.8v2.2M179.5 604.5v2.2M180.7 604.8v2.2M183.1 605.6v2.2M186.0 606.6v2.2M188.9 607.5v2.2M190.1 607.9v2.2M191.7 608.0v2.2M193.7 608.0v2.2M196.3 608.1v2.2M197.4 608.1v2.2M199.8 608.2v2.2M202.4 608.2v2.2M202.6 608.2v2.2M203.6 609.1v2.2M205.8 611.1v2.2M206.9 611.0v2.2M208.5 611.0v2.2M210.7 611.0v2.2M213.5 610.9v2.2M215.1 610.9v2.2M217.9 610.8v2.2M220.0 610.8v2.2M221.5 610.8v2.2" stroke="#ee1c25" stroke-width="0.7" fill="none"/>
<path d="M37.8 568.2H40.2V569.8H42.6V571.3H44.6V572.7H46.7V574.0H48.8V575.4H50.9V576.3H53.0V577.3H55.1V578.2H57.2V579.1H59.3V579.9H61.4V580.7H63.3V581.8H65.3V582.8H67.3V583.8H69.2V584.8H71.2V586.2H73.2V587.5H75.1V588.8H77.1V590.2H79.4V590.9H81.8V591.7H84.1V592.2H86.5V592.7H88.6V593.9H90.7V595.2H92.8V596.4H94.9V597.4H97.0V598.3H99.1V599.3H101.1V600.2H103.2V601.1H105.3V602.1H107.2V602.9H109.1V603.7H111.0V604.5H112.9V605.3H114.7V606.2H116.6V606.6H118.5V607.0H120.4V607.5H122.3V607.9H124.2V608.4H126.0V608.5H127.7V608.7H129.5V608.9H131.3V609.1H133.1V609.3H134.9V609.4H136.7V609.6H138.5V609.8H140.3V610.0H142.1V610.2H143.9V610.3H145.7V610.5H147.5V610.7H149.3V610.9H151.1V611.2H152.9V611.5H154.7V611.8H156.4V612.1H158.2V612.4H160.0V612.8H161.8V613.1H163.7V613.7H165.6V614.3H167.5V614.9H169.4V615.6H171.2V616.2H174.4V619.3H176.2V619.4H178.0V619.5H179.8V619.6H181.6V619.7H183.3V619.8H185.1V619.9H186.9V620.0H189.0V621.5H191.1V623.1H193.2V624.7H195.2V625.2H197.1V625.6H199.1V626.1H201.1V626.6H203.0V627.3H205.0V628.0H206.9V628.7H208.9V629.4H210.7V629.4H212.4V629.5H214.2V629.5H216.0V629.5H217.7V629.6H219.5V629.6H221.3V629.7H223.0V629.7" stroke="#1b3c9c" stroke-width="2" fill="none" stroke-linejoin="round"/>
<path d="M55.1 576.2v2.2M57.7 577.3v2.2M60.3 578.3v2.2M61.4 578.7v2.2M62.8 579.5v2.2M63.7 580.0v2.2M66.0 581.2v2.2M67.9 582.1v2.2M69.2 582.8v2.2M70.9 584.0v2.2M73.4 585.7v2.2M74.9 586.7v2.2M77.1 588.2v2.2M79.5 589.0v2.2M81.3 589.6v2.2M81.8 589.7v2.2M84.1 590.2v2.2M85.4 590.5v2.2M86.5 590.7v2.2M89.1 592.2v2.2M90.5 593.1v2.2M92.8 594.4v2.2M95.1 595.5v2.2M97.8 596.7v2.2M99.1 597.3v2.2M100.1 597.7v2.2M102.7 598.9v2.2M105.3 600.1v2.2M105.3 600.1v2.2M106.4 600.6v2.2M107.7 601.1v2.2M110.0 602.1v2.2M111.5 602.7v2.2M114.4 604.0v2.2M114.7 604.2v2.2M116.1 604.5v2.2M118.3 605.0v2.2M120.0 605.4v2.2M122.9 606.1v2.2M124.2 606.4v2.2M126.1 606.6v2.2M128.4 606.8v2.2M130.8 607.0v2.2M133.4 607.3v2.2M136.3 607.6v2.2M136.7 607.6v2.2M138.4 607.8v2.2M140.5 608.0v2.2M142.1 608.2v2.2M144.2 608.4v2.2M145.3 608.5v2.2M148.1 608.7v2.2M149.3 608.9v2.2M150.4 609.1v2.2M152.7 609.5v2.2M154.3 609.7v2.2M155.6 610.0v2.2M157.5 610.3v2.2M158.7 610.5v2.2M160.0 610.8v2.2M161.8 611.1v2.2M164.2 611.9v2.2M165.1 612.2v2.2M167.7 613.0v2.2M168.6 613.3v2.2M170.2 613.9v2.2M171.2 614.2v2.2M173.4 616.4v2.2M174.4 617.3v2.2M176.1 617.4v2.2M177.8 617.5v2.2M179.0 617.6v2.2M182.0 617.7v2.2M183.0 617.8v2.2M184.8 617.9v2.2M186.9 618.0v2.2M188.7 619.3v2.2M191.6 621.5v2.2M193.0 622.6v2.2M193.2 622.7v2.2M196.0 623.3v2.2M198.3 623.9v2.2M201.1 624.6v2.2M202.9 625.2v2.2M205.5 626.2v2.2M208.1 627.1v2.2M208.9 627.4v2.2M210.8 627.4v2.2M213.2 627.5v2.2M214.9 627.5v2.2M216.0 627.5v2.2M218.5 627.6v2.2M219.9 627.6v2.2M221.9 627.7v2.2" stroke="#1b3c9c" stroke-width="0.6" fill="none"/>
<path d="M37.7 557.3V682.3H224.6M37.7 682.3h-5.2M37.7 625.4h-5.2M37.7 568.5h-5.2M37.7 682.3v4.3M84.3 682.3v4.3M130.9 682.3v4.3M177.6 682.3v4.3M224.2 682.3v4.3" stroke="#111" stroke-width="1.05" fill="none"/>
<path d="M37.7 676.6h-3.1M37.7 670.9h-3.1M37.7 665.2h-3.1M37.7 659.5h-3.1M37.7 653.8h-3.1M37.7 648.2h-3.1M37.7 642.5h-3.1M37.7 636.8h-3.1M37.7 631.1h-3.1M37.7 619.7h-3.1M37.7 614.0h-3.1M37.7 608.3h-3.1M37.7 602.6h-3.1M37.7 596.9h-3.1M37.7 591.3h-3.1M37.7 585.6h-3.1M37.7 579.9h-3.1M37.7 574.2h-3.1M37.7 562.8h-3.1" stroke="#111" stroke-width="0.9" fill="none"/>
<g font-family="'Liberation Sans',sans-serif" font-weight="bold" font-size="9.2" fill="#111">
<text x="31.5" y="685.6" text-anchor="end">0</text>
<text x="31.5" y="628.7" text-anchor="end">50</text>
<text x="31.5" y="571.8" text-anchor="end">100</text>
<text x="37.7" y="697.5" text-anchor="middle">0</text>
<text x="84.3" y="697.5" text-anchor="middle">500</text>
<text x="130.9" y="697.5" text-anchor="middle">1000</text>
<text x="177.6" y="697.5" text-anchor="middle">1500</text>
<text x="224.2" y="697.5" text-anchor="middle">2000</text>
<text x="131" y="712.8" text-anchor="middle" font-size="9.75">Days</text>
</g>
<g font-family="'Liberation Serif',serif" fill="#111">
<text transform="translate(9.2,619.6) rotate(-90)" text-anchor="middle" font-weight="bold" font-size="10.05">Percent survival</text>
<text x="131" y="541.5" text-anchor="middle" font-weight="bold" font-size="11.4">m6A-cluster</text>
<text x="190.3" y="569.2" font-size="10.15">m6Acluster=A</text>
<text x="190.3" y="585.9" font-size="10.15">m6Acluster=B</text>
<text x="43.4" y="656.9" font-size="8.4">P=0.016</text>
<text x="43.4" y="666.9" font-size="8.55">HR=1.43(1.07-1.90)</text>
</g>
<path d="M169.6 565.7h13.2M176.2 563.6v2.1" stroke="#1b3c9c" stroke-width="1.5" fill="none"/>
<path d="M169.6 582.4h13.2M176.2 580.3v2.1" stroke="#ee1c25" stroke-width="1.5" fill="none"/></g>
</svg></body></html>
